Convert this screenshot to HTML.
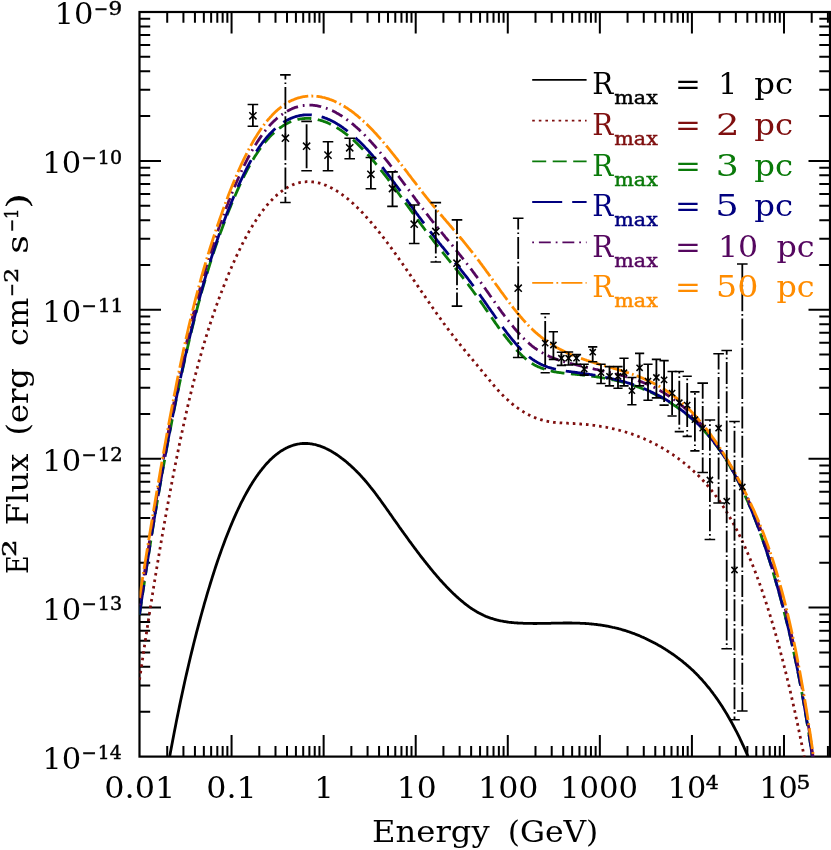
<!DOCTYPE html>
<html lang="en"><head><meta charset="utf-8"><title>E² Flux vs Energy</title>
<style>html,body{margin:0;padding:0;background:#fff;}body{width:831px;height:850px;overflow:hidden;position:relative}</style></head>
<body>
<svg width="831" height="850" viewBox="0 0 831 850" style="display:block;position:absolute;left:0;top:0">
<rect x="0" y="0" width="831" height="850" fill="#ffffff"/>
<defs><clipPath id="clip"><rect x="139.5" y="12.0" width="690.5" height="744.6"/></clipPath></defs>
<path d="M167.22 756.6v-10.7M167.22 12.0v10.7M183.43 756.6v-10.7M183.43 12.0v10.7M194.93 756.6v-10.7M194.93 12.0v10.7M203.85 756.6v-10.7M203.85 12.0v10.7M211.14 756.6v-10.7M211.14 12.0v10.7M217.31 756.6v-10.7M217.31 12.0v10.7M222.65 756.6v-10.7M222.65 12.0v10.7M227.36 756.6v-10.7M227.36 12.0v10.7M231.57 756.6v-21.5M231.57 12.0v21.5M259.29 756.6v-10.7M259.29 12.0v10.7M275.50 756.6v-10.7M275.50 12.0v10.7M287.00 756.6v-10.7M287.00 12.0v10.7M295.92 756.6v-10.7M295.92 12.0v10.7M303.21 756.6v-10.7M303.21 12.0v10.7M309.38 756.6v-10.7M309.38 12.0v10.7M314.72 756.6v-10.7M314.72 12.0v10.7M319.43 756.6v-10.7M319.43 12.0v10.7M323.64 756.6v-21.5M323.64 12.0v21.5M351.36 756.6v-10.7M351.36 12.0v10.7M367.57 756.6v-10.7M367.57 12.0v10.7M379.07 756.6v-10.7M379.07 12.0v10.7M387.99 756.6v-10.7M387.99 12.0v10.7M395.28 756.6v-10.7M395.28 12.0v10.7M401.45 756.6v-10.7M401.45 12.0v10.7M406.79 756.6v-10.7M406.79 12.0v10.7M411.50 756.6v-10.7M411.50 12.0v10.7M415.71 756.6v-21.5M415.71 12.0v21.5M443.43 756.6v-10.7M443.43 12.0v10.7M459.64 756.6v-10.7M459.64 12.0v10.7M471.14 756.6v-10.7M471.14 12.0v10.7M480.06 756.6v-10.7M480.06 12.0v10.7M487.35 756.6v-10.7M487.35 12.0v10.7M493.52 756.6v-10.7M493.52 12.0v10.7M498.86 756.6v-10.7M498.86 12.0v10.7M503.57 756.6v-10.7M503.57 12.0v10.7M507.78 756.6v-21.5M507.78 12.0v21.5M535.50 756.6v-10.7M535.50 12.0v10.7M551.71 756.6v-10.7M551.71 12.0v10.7M563.21 756.6v-10.7M563.21 12.0v10.7M572.13 756.6v-10.7M572.13 12.0v10.7M579.42 756.6v-10.7M579.42 12.0v10.7M585.59 756.6v-10.7M585.59 12.0v10.7M590.93 756.6v-10.7M590.93 12.0v10.7M595.64 756.6v-10.7M595.64 12.0v10.7M599.85 756.6v-21.5M599.85 12.0v21.5M627.57 756.6v-10.7M627.57 12.0v10.7M643.78 756.6v-10.7M643.78 12.0v10.7M655.28 756.6v-10.7M655.28 12.0v10.7M664.20 756.6v-10.7M664.20 12.0v10.7M671.49 756.6v-10.7M671.49 12.0v10.7M677.66 756.6v-10.7M677.66 12.0v10.7M683.00 756.6v-10.7M683.00 12.0v10.7M687.71 756.6v-10.7M687.71 12.0v10.7M691.92 756.6v-21.5M691.92 12.0v21.5M719.64 756.6v-10.7M719.64 12.0v10.7M735.85 756.6v-10.7M735.85 12.0v10.7M747.35 756.6v-10.7M747.35 12.0v10.7M756.27 756.6v-10.7M756.27 12.0v10.7M763.56 756.6v-10.7M763.56 12.0v10.7M769.73 756.6v-10.7M769.73 12.0v10.7M775.07 756.6v-10.7M775.07 12.0v10.7M779.78 756.6v-10.7M779.78 12.0v10.7M783.99 756.6v-21.5M783.99 12.0v21.5M811.71 756.6v-10.7M811.71 12.0v10.7M827.92 756.6v-10.7M827.92 12.0v10.7M139.5 711.68h10.7M830.0 711.68h-10.7M139.5 685.46h10.7M830.0 685.46h-10.7M139.5 666.85h10.7M830.0 666.85h-10.7M139.5 652.42h10.7M830.0 652.42h-10.7M139.5 640.63h10.7M830.0 640.63h-10.7M139.5 630.66h10.7M830.0 630.66h-10.7M139.5 622.03h10.7M830.0 622.03h-10.7M139.5 614.41h10.7M830.0 614.41h-10.7M139.5 607.60h21.5M830.0 607.60h-21.5M139.5 562.78h10.7M830.0 562.78h-10.7M139.5 536.56h10.7M830.0 536.56h-10.7M139.5 517.95h10.7M830.0 517.95h-10.7M139.5 503.52h10.7M830.0 503.52h-10.7M139.5 491.73h10.7M830.0 491.73h-10.7M139.5 481.76h10.7M830.0 481.76h-10.7M139.5 473.13h10.7M830.0 473.13h-10.7M139.5 465.51h10.7M830.0 465.51h-10.7M139.5 458.70h21.5M830.0 458.70h-21.5M139.5 413.88h10.7M830.0 413.88h-10.7M139.5 387.66h10.7M830.0 387.66h-10.7M139.5 369.05h10.7M830.0 369.05h-10.7M139.5 354.62h10.7M830.0 354.62h-10.7M139.5 342.83h10.7M830.0 342.83h-10.7M139.5 332.86h10.7M830.0 332.86h-10.7M139.5 324.23h10.7M830.0 324.23h-10.7M139.5 316.61h10.7M830.0 316.61h-10.7M139.5 309.80h21.5M830.0 309.80h-21.5M139.5 264.98h10.7M830.0 264.98h-10.7M139.5 238.76h10.7M830.0 238.76h-10.7M139.5 220.15h10.7M830.0 220.15h-10.7M139.5 205.72h10.7M830.0 205.72h-10.7M139.5 193.93h10.7M830.0 193.93h-10.7M139.5 183.96h10.7M830.0 183.96h-10.7M139.5 175.33h10.7M830.0 175.33h-10.7M139.5 167.71h10.7M830.0 167.71h-10.7M139.5 160.90h21.5M830.0 160.90h-21.5M139.5 116.08h10.7M830.0 116.08h-10.7M139.5 89.86h10.7M830.0 89.86h-10.7M139.5 71.25h10.7M830.0 71.25h-10.7M139.5 56.82h10.7M830.0 56.82h-10.7M139.5 45.03h10.7M830.0 45.03h-10.7M139.5 35.06h10.7M830.0 35.06h-10.7M139.5 26.43h10.7M830.0 26.43h-10.7M139.5 18.81h10.7M830.0 18.81h-10.7" stroke="#000" stroke-width="2.0" fill="none"/>
<rect x="139.5" y="12.0" width="690.5" height="744.6" fill="none" stroke="#000" stroke-width="2.2"/>
<g clip-path="url(#clip)" fill="none" stroke-linejoin="round">
<path d="M167.5 768.7 L168.5 763.1 L169.5 757.6 L170.5 752.1 L171.5 746.7 L172.5 741.4 L173.5 736.2 L174.5 731.0 L175.5 725.9 L176.5 720.8 L177.5 715.9 L178.5 711.0 L179.5 706.1 L180.5 701.3 L181.5 696.6 L182.5 692.0 L183.5 687.4 L184.5 682.8 L185.5 678.3 L186.5 673.9 L187.5 669.6 L188.5 665.3 L189.5 661.0 L190.5 656.8 L191.5 652.7 L192.5 648.6 L193.5 644.5 L194.5 640.5 L195.5 636.6 L196.5 632.7 L197.5 628.9 L198.5 625.1 L199.5 621.3 L200.5 617.6 L201.5 614.0 L202.5 610.3 L203.5 606.8 L204.5 603.2 L205.5 599.8 L206.5 596.3 L207.5 592.9 L208.5 589.6 L209.5 586.3 L210.5 583.0 L211.5 579.8 L212.5 576.6 L213.5 573.5 L214.5 570.4 L215.5 567.3 L216.5 564.3 L217.5 561.3 L218.5 558.4 L219.5 555.5 L220.5 552.7 L221.5 549.9 L222.5 547.1 L223.5 544.4 L224.5 541.7 L225.5 539.1 L226.5 536.5 L227.5 533.9 L228.5 531.4 L229.5 528.9 L230.5 526.5 L231.5 524.1 L232.5 521.7 L233.5 519.4 L234.5 517.1 L235.5 514.9 L236.5 512.7 L237.5 510.5 L238.5 508.4 L239.5 506.3 L240.5 504.2 L241.5 502.2 L242.5 500.3 L243.5 498.3 L244.5 496.4 L245.5 494.6 L246.5 492.8 L247.5 491.0 L248.5 489.2 L249.5 487.5 L250.5 485.8 L251.5 484.2 L252.5 482.6 L253.5 481.0 L254.5 479.5 L255.5 478.0 L256.5 476.5 L257.5 475.1 L258.5 473.7 L259.5 472.4 L260.5 471.0 L261.5 469.8 L262.5 468.5 L263.5 467.3 L264.5 466.1 L265.5 464.9 L266.5 463.8 L267.5 462.7 L268.5 461.7 L269.5 460.6 L270.5 459.6 L271.5 458.7 L272.5 457.8 L273.5 456.9 L274.5 456.0 L275.5 455.2 L276.5 454.3 L277.5 453.6 L278.5 452.8 L279.5 452.1 L280.5 451.4 L281.5 450.8 L282.5 450.2 L283.5 449.6 L284.5 449.0 L285.5 448.5 L286.5 447.9 L287.5 447.5 L288.5 447.0 L289.5 446.6 L290.5 446.2 L291.5 445.8 L292.5 445.5 L293.5 445.2 L294.5 444.9 L295.5 444.6 L296.5 444.4 L297.5 444.2 L298.5 444.0 L299.5 443.8 L300.5 443.7 L301.5 443.6 L302.5 443.5 L303.5 443.5 L304.5 443.5 L305.5 443.5 L306.5 443.5 L307.5 443.5 L308.5 443.6 L309.5 443.7 L310.5 443.8 L311.5 443.9 L312.5 444.1 L313.5 444.3 L314.5 444.5 L315.5 444.7 L316.5 445.0 L317.5 445.3 L318.5 445.6 L319.5 445.9 L320.5 446.2 L321.5 446.6 L322.5 447.0 L323.5 447.4 L324.5 447.8 L325.5 448.3 L326.5 448.7 L327.5 449.2 L328.5 449.7 L329.5 450.3 L330.5 450.8 L331.5 451.4 L332.5 452.0 L333.5 452.6 L334.5 453.2 L335.5 453.8 L336.5 454.5 L337.5 455.2 L338.5 455.9 L339.5 456.6 L340.5 457.3 L341.5 458.1 L342.5 458.8 L343.5 459.6 L344.5 460.4 L345.5 461.2 L346.5 462.0 L347.5 462.9 L348.5 463.8 L349.5 464.6 L350.5 465.5 L351.5 466.4 L352.5 467.4 L353.5 468.3 L354.5 469.3 L355.5 470.2 L356.5 471.2 L357.5 472.3 L358.5 473.3 L359.5 474.3 L360.5 475.4 L361.5 476.5 L362.5 477.6 L363.5 478.7 L364.5 479.8 L365.5 481.0 L366.5 482.2 L367.5 483.4 L368.5 484.6 L369.5 485.8 L370.5 487.1 L371.5 488.3 L372.5 489.6 L373.5 490.9 L374.5 492.2 L375.5 493.5 L376.5 494.9 L377.5 496.2 L378.5 497.6 L379.5 498.9 L380.5 500.3 L381.5 501.7 L382.5 503.1 L383.5 504.5 L384.5 505.9 L385.5 507.3 L386.5 508.7 L387.5 510.1 L388.5 511.5 L389.5 513.0 L390.5 514.4 L391.5 515.8 L392.5 517.2 L393.5 518.7 L394.5 520.1 L395.5 521.5 L396.5 522.9 L397.5 524.3 L398.5 525.7 L399.5 527.2 L400.5 528.6 L401.5 530.0 L402.5 531.4 L403.5 532.8 L404.5 534.2 L405.5 535.5 L406.5 536.9 L407.5 538.3 L408.5 539.7 L409.5 541.1 L410.5 542.4 L411.5 543.8 L412.5 545.2 L413.5 546.5 L414.5 547.9 L415.5 549.2 L416.5 550.5 L417.5 551.9 L418.5 553.2 L419.5 554.5 L420.5 555.8 L421.5 557.1 L422.5 558.4 L423.5 559.7 L424.5 561.0 L425.5 562.2 L426.5 563.5 L427.5 564.7 L428.5 566.0 L429.5 567.2 L430.5 568.5 L431.5 569.7 L432.5 570.9 L433.5 572.1 L434.5 573.3 L435.5 574.4 L436.5 575.6 L437.5 576.8 L438.5 577.9 L439.5 579.1 L440.5 580.2 L441.5 581.3 L442.5 582.4 L443.5 583.5 L444.5 584.6 L445.5 585.6 L446.5 586.7 L447.5 587.7 L448.5 588.7 L449.5 589.8 L450.5 590.8 L451.5 591.8 L452.5 592.7 L453.5 593.7 L454.5 594.6 L455.5 595.6 L456.5 596.5 L457.5 597.4 L458.5 598.3 L459.5 599.2 L460.5 600.0 L461.5 600.9 L462.5 601.7 L463.5 602.5 L464.5 603.3 L465.5 604.1 L466.5 604.9 L467.5 605.6 L468.5 606.4 L469.5 607.1 L470.5 607.8 L471.5 608.5 L472.5 609.1 L473.5 609.8 L474.5 610.4 L475.5 611.0 L476.5 611.6 L477.5 612.2 L478.5 612.8 L479.5 613.3 L480.5 613.8 L481.5 614.3 L482.5 614.8 L483.5 615.3 L484.5 615.7 L485.5 616.2 L486.5 616.6 L487.5 617.0 L488.5 617.4 L489.5 617.7 L490.5 618.1 L491.5 618.4 L492.5 618.7 L493.5 619.0 L494.5 619.3 L495.5 619.6 L496.5 619.9 L497.5 620.1 L498.5 620.4 L499.5 620.6 L500.5 620.8 L501.5 621.0 L502.5 621.2 L503.5 621.4 L504.5 621.6 L505.5 621.7 L506.5 621.9 L507.5 622.0 L508.5 622.2 L509.5 622.3 L510.5 622.4 L511.5 622.5 L512.5 622.6 L513.5 622.7 L514.5 622.8 L515.5 622.9 L516.5 622.9 L517.5 623.0 L518.5 623.1 L519.5 623.1 L520.5 623.2 L521.5 623.2 L522.5 623.2 L523.5 623.3 L524.5 623.3 L525.5 623.3 L526.5 623.4 L527.5 623.4 L528.5 623.4 L529.5 623.4 L530.5 623.4 L531.5 623.4 L532.5 623.4 L533.5 623.5 L534.5 623.5 L535.5 623.5 L536.5 623.5 L537.5 623.4 L538.5 623.4 L539.5 623.4 L540.5 623.4 L541.5 623.4 L542.5 623.4 L543.5 623.4 L544.5 623.4 L545.5 623.3 L546.5 623.3 L547.5 623.3 L548.5 623.3 L549.5 623.3 L550.5 623.3 L551.5 623.2 L552.5 623.2 L553.5 623.2 L554.5 623.2 L555.5 623.2 L556.5 623.1 L557.5 623.1 L558.5 623.1 L559.5 623.1 L560.5 623.1 L561.5 623.1 L562.5 623.1 L563.5 623.0 L564.5 623.0 L565.5 623.0 L566.5 623.0 L567.5 623.0 L568.5 623.0 L569.5 623.0 L570.5 623.0 L571.5 623.0 L572.5 623.1 L573.5 623.1 L574.5 623.1 L575.5 623.1 L576.5 623.1 L577.5 623.2 L578.5 623.2 L579.5 623.2 L580.5 623.3 L581.5 623.3 L582.5 623.3 L583.5 623.4 L584.5 623.4 L585.5 623.5 L586.5 623.6 L587.5 623.6 L588.5 623.7 L589.5 623.8 L590.5 623.9 L591.5 624.0 L592.5 624.1 L593.5 624.2 L594.5 624.3 L595.5 624.4 L596.5 624.5 L597.5 624.6 L598.5 624.8 L599.5 624.9 L600.5 625.0 L601.5 625.2 L602.5 625.4 L603.5 625.5 L604.5 625.7 L605.5 625.9 L606.5 626.0 L607.5 626.2 L608.5 626.4 L609.5 626.6 L610.5 626.8 L611.5 627.0 L612.5 627.3 L613.5 627.5 L614.5 627.7 L615.5 628.0 L616.5 628.2 L617.5 628.4 L618.5 628.7 L619.5 629.0 L620.5 629.2 L621.5 629.5 L622.5 629.8 L623.5 630.1 L624.5 630.4 L625.5 630.7 L626.5 631.0 L627.5 631.4 L628.5 631.7 L629.5 632.0 L630.5 632.4 L631.5 632.7 L632.5 633.1 L633.5 633.4 L634.5 633.8 L635.5 634.2 L636.5 634.6 L637.5 635.0 L638.5 635.4 L639.5 635.8 L640.5 636.2 L641.5 636.7 L642.5 637.1 L643.5 637.5 L644.5 638.0 L645.5 638.4 L646.5 638.9 L647.5 639.4 L648.5 639.9 L649.5 640.4 L650.5 640.9 L651.5 641.4 L652.5 641.9 L653.5 642.4 L654.5 642.9 L655.5 643.5 L656.5 644.0 L657.5 644.6 L658.5 645.2 L659.5 645.7 L660.5 646.3 L661.5 646.9 L662.5 647.5 L663.5 648.1 L664.5 648.7 L665.5 649.4 L666.5 650.0 L667.5 650.6 L668.5 651.3 L669.5 652.0 L670.5 652.6 L671.5 653.3 L672.5 654.0 L673.5 654.7 L674.5 655.4 L675.5 656.1 L676.5 656.8 L677.5 657.6 L678.5 658.3 L679.5 659.1 L680.5 659.9 L681.5 660.6 L682.5 661.4 L683.5 662.3 L684.5 663.1 L685.5 663.9 L686.5 664.8 L687.5 665.6 L688.5 666.5 L689.5 667.4 L690.5 668.3 L691.5 669.2 L692.5 670.1 L693.5 671.1 L694.5 672.1 L695.5 673.0 L696.5 674.0 L697.5 675.1 L698.5 676.1 L699.5 677.2 L700.5 678.2 L701.5 679.3 L702.5 680.4 L703.5 681.6 L704.5 682.7 L705.5 683.9 L706.5 685.1 L707.5 686.3 L708.5 687.5 L709.5 688.7 L710.5 690.0 L711.5 691.3 L712.5 692.6 L713.5 694.0 L714.5 695.3 L715.5 696.7 L716.5 698.1 L717.5 699.5 L718.5 701.0 L719.5 702.5 L720.5 704.0 L721.5 705.5 L722.5 707.1 L723.5 708.7 L724.5 710.3 L725.5 711.9 L726.5 713.6 L727.5 715.2 L728.5 717.0 L729.5 718.7 L730.5 720.5 L731.5 722.3 L732.5 724.1 L733.5 726.0 L734.5 727.9 L735.5 729.8 L736.5 731.7 L737.5 733.7 L738.5 735.7 L739.5 737.7 L740.5 739.8 L741.5 741.9 L742.5 744.1 L743.5 746.2 L744.5 748.4 L745.5 750.7 L746.5 752.9 L747.5 755.2 L748.5 757.6 L749.5 759.9 L750.5 762.4 L751.5 764.8" stroke="#000000" stroke-width="2.8"/>
<path d="M139.5 679.9 L140.5 673.1 L141.5 666.2 L142.5 659.4 L143.5 652.7 L144.5 646.0 L145.5 639.4 L146.5 632.8 L147.5 626.2 L148.5 619.7 L149.5 613.3 L150.5 606.9 L151.5 600.5 L152.5 594.2 L153.5 588.0 L154.5 581.8 L155.5 575.6 L156.5 569.5 L157.5 563.5 L158.5 557.5 L159.5 551.5 L160.5 545.7 L161.5 539.8 L162.5 534.0 L163.5 528.3 L164.5 522.6 L165.5 517.0 L166.5 511.4 L167.5 505.9 L168.5 500.4 L169.5 495.0 L170.5 489.7 L171.5 484.4 L172.5 479.1 L173.5 474.0 L174.5 468.8 L175.5 463.7 L176.5 458.7 L177.5 453.8 L178.5 448.9 L179.5 444.0 L180.5 439.2 L181.5 434.5 L182.5 429.8 L183.5 425.2 L184.5 420.7 L185.5 416.2 L186.5 411.7 L187.5 407.3 L188.5 403.0 L189.5 398.8 L190.5 394.6 L191.5 390.4 L192.5 386.4 L193.5 382.4 L194.5 378.4 L195.5 374.5 L196.5 370.7 L197.5 366.9 L198.5 363.2 L199.5 359.5 L200.5 355.9 L201.5 352.4 L202.5 348.9 L203.5 345.5 L204.5 342.1 L205.5 338.8 L206.5 335.5 L207.5 332.3 L208.5 329.1 L209.5 326.0 L210.5 322.9 L211.5 319.9 L212.5 316.9 L213.5 314.0 L214.5 311.1 L215.5 308.2 L216.5 305.4 L217.5 302.6 L218.5 299.9 L219.5 297.2 L220.5 294.5 L221.5 291.9 L222.5 289.3 L223.5 286.7 L224.5 284.2 L225.5 281.7 L226.5 279.2 L227.5 276.8 L228.5 274.3 L229.5 272.0 L230.5 269.6 L231.5 267.3 L232.5 265.0 L233.5 262.7 L234.5 260.5 L235.5 258.2 L236.5 256.1 L237.5 253.9 L238.5 251.8 L239.5 249.8 L240.5 247.7 L241.5 245.7 L242.5 243.7 L243.5 241.8 L244.5 239.9 L245.5 238.0 L246.5 236.1 L247.5 234.3 L248.5 232.5 L249.5 230.8 L250.5 229.1 L251.5 227.4 L252.5 225.7 L253.5 224.1 L254.5 222.5 L255.5 221.0 L256.5 219.4 L257.5 217.9 L258.5 216.5 L259.5 215.0 L260.5 213.6 L261.5 212.3 L262.5 210.9 L263.5 209.6 L264.5 208.3 L265.5 207.1 L266.5 205.9 L267.5 204.7 L268.5 203.5 L269.5 202.4 L270.5 201.3 L271.5 200.3 L272.5 199.2 L273.5 198.2 L274.5 197.3 L275.5 196.3 L276.5 195.4 L277.5 194.5 L278.5 193.7 L279.5 192.9 L280.5 192.1 L281.5 191.3 L282.5 190.6 L283.5 189.9 L284.5 189.2 L285.5 188.6 L286.5 188.0 L287.5 187.4 L288.5 186.8 L289.5 186.3 L290.5 185.8 L291.5 185.4 L292.5 184.9 L293.5 184.5 L294.5 184.1 L295.5 183.8 L296.5 183.5 L297.5 183.2 L298.5 182.9 L299.5 182.7 L300.5 182.4 L301.5 182.3 L302.5 182.1 L303.5 182.0 L304.5 181.8 L305.5 181.8 L306.5 181.7 L307.5 181.7 L308.5 181.7 L309.5 181.7 L310.5 181.7 L311.5 181.8 L312.5 181.9 L313.5 182.0 L314.5 182.1 L315.5 182.3 L316.5 182.5 L317.5 182.7 L318.5 182.9 L319.5 183.1 L320.5 183.4 L321.5 183.7 L322.5 184.0 L323.5 184.4 L324.5 184.8 L325.5 185.1 L326.5 185.5 L327.5 186.0 L328.5 186.4 L329.5 186.9 L330.5 187.4 L331.5 187.9 L332.5 188.4 L333.5 189.0 L334.5 189.6 L335.5 190.2 L336.5 190.8 L337.5 191.4 L338.5 192.0 L339.5 192.7 L340.5 193.4 L341.5 194.1 L342.5 194.8 L343.5 195.6 L344.5 196.3 L345.5 197.1 L346.5 197.9 L347.5 198.7 L348.5 199.5 L349.5 200.4 L350.5 201.3 L351.5 202.1 L352.5 203.0 L353.5 203.9 L354.5 204.9 L355.5 205.8 L356.5 206.8 L357.5 207.7 L358.5 208.7 L359.5 209.7 L360.5 210.8 L361.5 211.8 L362.5 212.8 L363.5 213.9 L364.5 215.0 L365.5 216.1 L366.5 217.2 L367.5 218.3 L368.5 219.4 L369.5 220.5 L370.5 221.7 L371.5 222.8 L372.5 224.0 L373.5 225.2 L374.5 226.4 L375.5 227.6 L376.5 228.8 L377.5 230.1 L378.5 231.3 L379.5 232.6 L380.5 233.9 L381.5 235.1 L382.5 236.4 L383.5 237.7 L384.5 239.0 L385.5 240.3 L386.5 241.7 L387.5 243.0 L388.5 244.3 L389.5 245.7 L390.5 247.0 L391.5 248.4 L392.5 249.8 L393.5 251.2 L394.5 252.5 L395.5 253.9 L396.5 255.3 L397.5 256.7 L398.5 258.1 L399.5 259.6 L400.5 261.0 L401.5 262.4 L402.5 263.8 L403.5 265.3 L404.5 266.7 L405.5 268.2 L406.5 269.6 L407.5 271.0 L408.5 272.5 L409.5 273.9 L410.5 275.4 L411.5 276.9 L412.5 278.3 L413.5 279.8 L414.5 281.2 L415.5 282.7 L416.5 284.2 L417.5 285.6 L418.5 287.1 L419.5 288.6 L420.5 290.0 L421.5 291.5 L422.5 293.0 L423.5 294.4 L424.5 295.9 L425.5 297.3 L426.5 298.8 L427.5 300.2 L428.5 301.7 L429.5 303.1 L430.5 304.6 L431.5 306.0 L432.5 307.5 L433.5 308.9 L434.5 310.3 L435.5 311.8 L436.5 313.2 L437.5 314.6 L438.5 316.0 L439.5 317.4 L440.5 318.8 L441.5 320.2 L442.5 321.6 L443.5 323.0 L444.5 324.3 L445.5 325.7 L446.5 327.1 L447.5 328.4 L448.5 329.7 L449.5 331.1 L450.5 332.4 L451.5 333.7 L452.5 335.0 L453.5 336.3 L454.5 337.6 L455.5 338.9 L456.5 340.1 L457.5 341.4 L458.5 342.7 L459.5 343.9 L460.5 345.1 L461.5 346.4 L462.5 347.6 L463.5 348.8 L464.5 350.0 L465.5 351.2 L466.5 352.4 L467.5 353.6 L468.5 354.8 L469.5 356.0 L470.5 357.2 L471.5 358.4 L472.5 359.6 L473.5 360.8 L474.5 362.0 L475.5 363.2 L476.5 364.4 L477.5 365.6 L478.5 366.8 L479.5 368.0 L480.5 369.2 L481.5 370.5 L482.5 371.7 L483.5 372.9 L484.5 374.1 L485.5 375.4 L486.5 376.6 L487.5 377.8 L488.5 379.0 L489.5 380.2 L490.5 381.5 L491.5 382.6 L492.5 383.8 L493.5 385.0 L494.5 386.2 L495.5 387.3 L496.5 388.5 L497.5 389.6 L498.5 390.7 L499.5 391.8 L500.5 392.8 L501.5 393.9 L502.5 394.9 L503.5 395.9 L504.5 396.9 L505.5 397.9 L506.5 398.8 L507.5 399.7 L508.5 400.6 L509.5 401.5 L510.5 402.4 L511.5 403.2 L512.5 404.1 L513.5 404.9 L514.5 405.7 L515.5 406.4 L516.5 407.2 L517.5 407.9 L518.5 408.6 L519.5 409.3 L520.5 410.0 L521.5 410.7 L522.5 411.3 L523.5 411.9 L524.5 412.5 L525.5 413.1 L526.5 413.7 L527.5 414.2 L528.5 414.7 L529.5 415.2 L530.5 415.7 L531.5 416.2 L532.5 416.6 L533.5 417.1 L534.5 417.5 L535.5 417.9 L536.5 418.3 L537.5 418.7 L538.5 419.0 L539.5 419.3 L540.5 419.6 L541.5 419.9 L542.5 420.2 L543.5 420.5 L544.5 420.7 L545.5 421.0 L546.5 421.2 L547.5 421.4 L548.5 421.5 L549.5 421.7 L550.5 421.9 L551.5 422.0 L552.5 422.1 L553.5 422.3 L554.5 422.4 L555.5 422.5 L556.5 422.6 L557.5 422.7 L558.5 422.7 L559.5 422.8 L560.5 422.9 L561.5 422.9 L562.5 423.0 L563.5 423.1 L564.5 423.1 L565.5 423.2 L566.5 423.2 L567.5 423.2 L568.5 423.3 L569.5 423.3 L570.5 423.4 L571.5 423.4 L572.5 423.5 L573.5 423.5 L574.5 423.6 L575.5 423.6 L576.5 423.7 L577.5 423.8 L578.5 423.8 L579.5 423.9 L580.5 424.0 L581.5 424.1 L582.5 424.1 L583.5 424.2 L584.5 424.3 L585.5 424.4 L586.5 424.5 L587.5 424.6 L588.5 424.7 L589.5 424.8 L590.5 424.9 L591.5 425.1 L592.5 425.2 L593.5 425.3 L594.5 425.4 L595.5 425.6 L596.5 425.7 L597.5 425.8 L598.5 426.0 L599.5 426.1 L600.5 426.3 L601.5 426.5 L602.5 426.6 L603.5 426.8 L604.5 427.0 L605.5 427.2 L606.5 427.3 L607.5 427.5 L608.5 427.7 L609.5 427.9 L610.5 428.1 L611.5 428.4 L612.5 428.6 L613.5 428.8 L614.5 429.0 L615.5 429.3 L616.5 429.5 L617.5 429.8 L618.5 430.0 L619.5 430.3 L620.5 430.5 L621.5 430.8 L622.5 431.1 L623.5 431.4 L624.5 431.7 L625.5 432.0 L626.5 432.3 L627.5 432.6 L628.5 432.9 L629.5 433.2 L630.5 433.6 L631.5 433.9 L632.5 434.2 L633.5 434.6 L634.5 434.9 L635.5 435.3 L636.5 435.7 L637.5 436.1 L638.5 436.5 L639.5 436.8 L640.5 437.2 L641.5 437.7 L642.5 438.1 L643.5 438.5 L644.5 438.9 L645.5 439.4 L646.5 439.8 L647.5 440.3 L648.5 440.7 L649.5 441.2 L650.5 441.7 L651.5 442.2 L652.5 442.7 L653.5 443.2 L654.5 443.7 L655.5 444.2 L656.5 444.7 L657.5 445.3 L658.5 445.8 L659.5 446.4 L660.5 447.0 L661.5 447.5 L662.5 448.1 L663.5 448.7 L664.5 449.3 L665.5 449.9 L666.5 450.5 L667.5 451.2 L668.5 451.8 L669.5 452.4 L670.5 453.1 L671.5 453.8 L672.5 454.4 L673.5 455.1 L674.5 455.8 L675.5 456.5 L676.5 457.2 L677.5 458.0 L678.5 458.7 L679.5 459.5 L680.5 460.2 L681.5 461.0 L682.5 461.7 L683.5 462.5 L684.5 463.3 L685.5 464.1 L686.5 465.0 L687.5 465.8 L688.5 466.6 L689.5 467.5 L690.5 468.3 L691.5 469.2 L692.5 470.1 L693.5 471.0 L694.5 472.0 L695.5 472.9 L696.5 473.8 L697.5 474.8 L698.5 475.8 L699.5 476.8 L700.5 477.8 L701.5 478.9 L702.5 479.9 L703.5 481.0 L704.5 482.1 L705.5 483.2 L706.5 484.3 L707.5 485.5 L708.5 486.7 L709.5 487.8 L710.5 489.1 L711.5 490.3 L712.5 491.6 L713.5 492.8 L714.5 494.1 L715.5 495.5 L716.5 496.8 L717.5 498.2 L718.5 499.6 L719.5 501.0 L720.5 502.5 L721.5 503.9 L722.5 505.4 L723.5 507.0 L724.5 508.5 L725.5 510.1 L726.5 511.7 L727.5 513.4 L728.5 515.0 L729.5 516.7 L730.5 518.5 L731.5 520.2 L732.5 522.0 L733.5 523.8 L734.5 525.7 L735.5 527.6 L736.5 529.5 L737.5 531.4 L738.5 533.4 L739.5 535.4 L740.5 537.5 L741.5 539.5 L742.5 541.7 L743.5 543.8 L744.5 546.0 L745.5 548.2 L746.5 550.5 L747.5 552.8 L748.5 555.1 L749.5 557.5 L750.5 559.9 L751.5 562.3 L752.5 564.8 L753.5 567.4 L754.5 569.9 L755.5 572.5 L756.5 575.2 L757.5 577.9 L758.5 580.6 L759.5 583.4 L760.5 586.2 L761.5 589.0 L762.5 591.9 L763.5 594.9 L764.5 597.9 L765.5 600.9 L766.5 604.0 L767.5 607.1 L768.5 610.3 L769.5 613.5 L770.5 616.7 L771.5 620.0 L772.5 623.4 L773.5 626.8 L774.5 630.2 L775.5 633.7 L776.5 637.3 L777.5 640.9 L778.5 644.5 L779.5 648.2 L780.5 652.0 L781.5 655.8 L782.5 659.6 L783.5 663.5 L784.5 667.5 L785.5 671.5 L786.5 675.5 L787.5 679.7 L788.5 683.8 L789.5 688.0 L790.5 692.3 L791.5 696.7 L792.5 701.0 L793.5 705.5 L794.5 710.0 L795.5 714.5 L796.5 719.2 L797.5 723.8 L798.5 728.6 L799.5 733.3 L800.5 738.2 L801.5 743.1 L802.5 748.1 L803.5 753.1 L804.5 758.2 L805.5 763.3" stroke="#7f0f0f" stroke-width="2.8" stroke-dasharray="2.6 4.0"/>
<path d="M139.5 615.1 L140.5 608.3 L141.5 601.4 L142.5 594.7 L143.5 588.0 L144.5 581.4 L145.5 574.8 L146.5 568.2 L147.5 561.8 L148.5 555.4 L149.5 549.0 L150.5 542.7 L151.5 536.5 L152.5 530.3 L153.5 524.2 L154.5 518.1 L155.5 512.1 L156.5 506.1 L157.5 500.2 L158.5 494.4 L159.5 488.6 L160.5 482.8 L161.5 477.1 L162.5 471.5 L163.5 465.9 L164.5 460.4 L165.5 454.9 L166.5 449.5 L167.5 444.1 L168.5 438.8 L169.5 433.6 L170.5 428.4 L171.5 423.2 L172.5 418.1 L173.5 413.0 L174.5 408.0 L175.5 403.1 L176.5 398.2 L177.5 393.4 L178.5 388.6 L179.5 383.8 L180.5 379.1 L181.5 374.5 L182.5 369.9 L183.5 365.4 L184.5 360.9 L185.5 356.4 L186.5 352.1 L187.5 347.7 L188.5 343.5 L189.5 339.2 L190.5 335.0 L191.5 330.9 L192.5 326.8 L193.5 322.8 L194.5 318.9 L195.5 314.9 L196.5 311.1 L197.5 307.2 L198.5 303.5 L199.5 299.8 L200.5 296.1 L201.5 292.5 L202.5 288.9 L203.5 285.4 L204.5 282.0 L205.5 278.5 L206.5 275.2 L207.5 271.9 L208.5 268.6 L209.5 265.4 L210.5 262.2 L211.5 259.0 L212.5 256.0 L213.5 252.9 L214.5 249.9 L215.5 246.9 L216.5 244.0 L217.5 241.1 L218.5 238.2 L219.5 235.4 L220.5 232.6 L221.5 229.9 L222.5 227.2 L223.5 224.5 L224.5 221.8 L225.5 219.2 L226.5 216.6 L227.5 214.1 L228.5 211.5 L229.5 209.0 L230.5 206.6 L231.5 204.1 L232.5 201.7 L233.5 199.3 L234.5 197.0 L235.5 194.7 L236.5 192.4 L237.5 190.1 L238.5 187.9 L239.5 185.7 L240.5 183.5 L241.5 181.4 L242.5 179.3 L243.5 177.3 L244.5 175.2 L245.5 173.3 L246.5 171.3 L247.5 169.4 L248.5 167.5 L249.5 165.7 L250.5 163.9 L251.5 162.2 L252.5 160.4 L253.5 158.8 L254.5 157.1 L255.5 155.5 L256.5 154.0 L257.5 152.4 L258.5 151.0 L259.5 149.5 L260.5 148.1 L261.5 146.8 L262.5 145.4 L263.5 144.1 L264.5 142.9 L265.5 141.7 L266.5 140.5 L267.5 139.3 L268.5 138.2 L269.5 137.1 L270.5 136.1 L271.5 135.1 L272.5 134.1 L273.5 133.2 L274.5 132.3 L275.5 131.4 L276.5 130.5 L277.5 129.7 L278.5 128.9 L279.5 128.2 L280.5 127.5 L281.5 126.8 L282.5 126.1 L283.5 125.5 L284.5 124.9 L285.5 124.3 L286.5 123.7 L287.5 123.2 L288.5 122.7 L289.5 122.3 L290.5 121.8 L291.5 121.4 L292.5 121.0 L293.5 120.7 L294.5 120.4 L295.5 120.1 L296.5 119.8 L297.5 119.5 L298.5 119.3 L299.5 119.1 L300.5 118.9 L301.5 118.8 L302.5 118.7 L303.5 118.6 L304.5 118.5 L305.5 118.4 L306.5 118.4 L307.5 118.4 L308.5 118.4 L309.5 118.4 L310.5 118.5 L311.5 118.6 L312.5 118.7 L313.5 118.8 L314.5 119.0 L315.5 119.1 L316.5 119.3 L317.5 119.5 L318.5 119.8 L319.5 120.0 L320.5 120.3 L321.5 120.6 L322.5 120.9 L323.5 121.3 L324.5 121.6 L325.5 122.0 L326.5 122.4 L327.5 122.8 L328.5 123.3 L329.5 123.7 L330.5 124.2 L331.5 124.7 L332.5 125.2 L333.5 125.8 L334.5 126.3 L335.5 126.9 L336.5 127.5 L337.5 128.1 L338.5 128.7 L339.5 129.4 L340.5 130.0 L341.5 130.7 L342.5 131.4 L343.5 132.1 L344.5 132.9 L345.5 133.6 L346.5 134.4 L347.5 135.2 L348.5 136.0 L349.5 136.8 L350.5 137.6 L351.5 138.5 L352.5 139.4 L353.5 140.2 L354.5 141.1 L355.5 142.1 L356.5 143.0 L357.5 143.9 L358.5 144.9 L359.5 145.9 L360.5 146.9 L361.5 147.9 L362.5 148.9 L363.5 149.9 L364.5 151.0 L365.5 152.0 L366.5 153.1 L367.5 154.2 L368.5 155.3 L369.5 156.4 L370.5 157.5 L371.5 158.7 L372.5 159.8 L373.5 161.0 L374.5 162.2 L375.5 163.4 L376.5 164.6 L377.5 165.8 L378.5 167.0 L379.5 168.3 L380.5 169.5 L381.5 170.8 L382.5 172.0 L383.5 173.3 L384.5 174.6 L385.5 175.9 L386.5 177.2 L387.5 178.5 L388.5 179.8 L389.5 181.1 L390.5 182.5 L391.5 183.8 L392.5 185.2 L393.5 186.5 L394.5 187.9 L395.5 189.2 L396.5 190.6 L397.5 192.0 L398.5 193.3 L399.5 194.7 L400.5 196.1 L401.5 197.5 L402.5 198.8 L403.5 200.2 L404.5 201.6 L405.5 203.0 L406.5 204.4 L407.5 205.7 L408.5 207.1 L409.5 208.5 L410.5 209.9 L411.5 211.3 L412.5 212.7 L413.5 214.0 L414.5 215.4 L415.5 216.8 L416.5 218.2 L417.5 219.5 L418.5 220.9 L419.5 222.3 L420.5 223.6 L421.5 225.0 L422.5 226.3 L423.5 227.7 L424.5 229.0 L425.5 230.4 L426.5 231.7 L427.5 233.0 L428.5 234.3 L429.5 235.6 L430.5 236.9 L431.5 238.2 L432.5 239.5 L433.5 240.8 L434.5 242.1 L435.5 243.3 L436.5 244.6 L437.5 245.9 L438.5 247.1 L439.5 248.4 L440.5 249.6 L441.5 250.9 L442.5 252.1 L443.5 253.4 L444.5 254.6 L445.5 255.9 L446.5 257.1 L447.5 258.3 L448.5 259.6 L449.5 260.8 L450.5 262.1 L451.5 263.3 L452.5 264.5 L453.5 265.8 L454.5 267.1 L455.5 268.3 L456.5 269.6 L457.5 270.8 L458.5 272.1 L459.5 273.4 L460.5 274.6 L461.5 275.9 L462.5 277.2 L463.5 278.5 L464.5 279.8 L465.5 281.1 L466.5 282.4 L467.5 283.7 L468.5 285.0 L469.5 286.3 L470.5 287.7 L471.5 289.0 L472.5 290.3 L473.5 291.7 L474.5 293.1 L475.5 294.4 L476.5 295.8 L477.5 297.2 L478.5 298.6 L479.5 300.0 L480.5 301.4 L481.5 302.9 L482.5 304.3 L483.5 305.7 L484.5 307.2 L485.5 308.6 L486.5 310.1 L487.5 311.5 L488.5 313.0 L489.5 314.4 L490.5 315.9 L491.5 317.3 L492.5 318.8 L493.5 320.2 L494.5 321.6 L495.5 323.1 L496.5 324.5 L497.5 325.9 L498.5 327.4 L499.5 328.8 L500.5 330.1 L501.5 331.5 L502.5 332.8 L503.5 334.1 L504.5 335.4 L505.5 336.7 L506.5 338.0 L507.5 339.2 L508.5 340.5 L509.5 341.7 L510.5 342.9 L511.5 344.1 L512.5 345.3 L513.5 346.5 L514.5 347.6 L515.5 348.8 L516.5 349.9 L517.5 350.9 L518.5 352.0 L519.5 353.0 L520.5 354.0 L521.5 355.0 L522.5 356.0 L523.5 356.9 L524.5 357.8 L525.5 358.7 L526.5 359.6 L527.5 360.4 L528.5 361.2 L529.5 361.9 L530.5 362.6 L531.5 363.2 L532.5 363.8 L533.5 364.4 L534.5 365.0 L535.5 365.5 L536.5 366.0 L537.5 366.4 L538.5 366.9 L539.5 367.3 L540.5 367.7 L541.5 368.1 L542.5 368.4 L543.5 368.8 L544.5 369.1 L545.5 369.4 L546.5 369.7 L547.5 370.0 L548.5 370.3 L549.5 370.6 L550.5 370.9 L551.5 371.1 L552.5 371.3 L553.5 371.6 L554.5 371.8 L555.5 371.9 L556.5 372.1 L557.5 372.3 L558.5 372.4 L559.5 372.6 L560.5 372.7 L561.5 372.8 L562.5 373.0 L563.5 373.1 L564.5 373.2 L565.5 373.3 L566.5 373.4 L567.5 373.5 L568.5 373.6 L569.5 373.7 L570.5 373.8 L571.5 373.9 L572.5 374.0 L573.5 374.1 L574.5 374.2 L575.5 374.3 L576.5 374.4 L577.5 374.5 L578.5 374.6 L579.5 374.7 L580.5 374.8 L581.5 374.9 L582.5 375.0 L583.5 375.2 L584.5 375.3 L585.5 375.4 L586.5 375.5 L587.5 375.6 L588.5 375.8 L589.5 375.9 L590.5 376.0 L591.5 376.2 L592.5 376.3 L593.5 376.4 L594.5 376.6 L595.5 376.7 L596.5 376.9 L597.5 377.0 L598.5 377.2 L599.5 377.3 L600.5 377.5 L601.5 377.7 L602.5 377.8 L603.5 378.0 L604.5 378.2 L605.5 378.4 L606.5 378.6 L607.5 378.8 L608.5 379.0 L609.5 379.2 L610.5 379.4 L611.5 379.6 L612.5 379.8 L613.5 380.0 L614.5 380.2 L615.5 380.5 L616.5 380.7 L617.5 380.9 L618.5 381.2 L619.5 381.4 L620.5 381.7 L621.5 381.9 L622.5 382.2 L623.5 382.5 L624.5 382.7 L625.5 383.0 L626.5 383.3 L627.5 383.6 L628.5 383.9 L629.5 384.2 L630.5 384.5 L631.5 384.8 L632.5 385.1 L633.5 385.5 L634.5 385.8 L635.5 386.1 L636.5 386.5 L637.5 386.8 L638.5 387.2 L639.5 387.5 L640.5 387.9 L641.5 388.3 L642.5 388.7 L643.5 389.1 L644.5 389.5 L645.5 389.9 L646.5 390.3 L647.5 390.8 L648.5 391.2 L649.5 391.7 L650.5 392.1 L651.5 392.6 L652.5 393.0 L653.5 393.5 L654.5 394.0 L655.5 394.5 L656.5 395.0 L657.5 395.5 L658.5 396.0 L659.5 396.6 L660.5 397.1 L661.5 397.6 L662.5 398.2 L663.5 398.7 L664.5 399.3 L665.5 399.9 L666.5 400.5 L667.5 401.1 L668.5 401.7 L669.5 402.3 L670.5 402.9 L671.5 403.6 L672.5 404.2 L673.5 404.9 L674.5 405.5 L675.5 406.2 L676.5 406.9 L677.5 407.6 L678.5 408.3 L679.5 409.0 L680.5 409.7 L681.5 410.5 L682.5 411.2 L683.5 412.0 L684.5 412.7 L685.5 413.5 L686.5 414.3 L687.5 415.1 L688.5 415.9 L689.5 416.8 L690.5 417.6 L691.5 418.5 L692.5 419.4 L693.5 420.2 L694.5 421.2 L695.5 422.1 L696.5 423.0 L697.5 424.0 L698.5 424.9 L699.5 425.9 L700.5 426.9 L701.5 427.9 L702.5 429.0 L703.5 430.0 L704.5 431.1 L705.5 432.2 L706.5 433.3 L707.5 434.5 L708.5 435.6 L709.5 436.8 L710.5 438.0 L711.5 439.3 L712.5 440.5 L713.5 441.8 L714.5 443.1 L715.5 444.4 L716.5 445.7 L717.5 447.1 L718.5 448.5 L719.5 449.9 L720.5 451.3 L721.5 452.8 L722.5 454.3 L723.5 455.8 L724.5 457.3 L725.5 458.9 L726.5 460.5 L727.5 462.1 L728.5 463.8 L729.5 465.4 L730.5 467.2 L731.5 468.9 L732.5 470.7 L733.5 472.5 L734.5 474.3 L735.5 476.2 L736.5 478.0 L737.5 480.0 L738.5 481.9 L739.5 483.9 L740.5 485.9 L741.5 488.0 L742.5 490.1 L743.5 492.2 L744.5 494.4 L745.5 496.6 L746.5 498.8 L747.5 501.0 L748.5 503.3 L749.5 505.7 L750.5 508.0 L751.5 510.5 L752.5 512.9 L753.5 515.4 L754.5 517.9 L755.5 520.5 L756.5 523.1 L757.5 525.7 L758.5 528.4 L759.5 531.1 L760.5 533.9 L761.5 536.7 L762.5 539.5 L763.5 542.4 L764.5 545.3 L765.5 548.3 L766.5 551.3 L767.5 554.4 L768.5 557.5 L769.5 560.6 L770.5 563.8 L771.5 567.0 L772.5 570.3 L773.5 573.6 L774.5 577.0 L775.5 580.4 L776.5 583.9 L777.5 587.4 L778.5 590.9 L779.5 594.5 L780.5 598.2 L781.5 601.9 L782.5 605.6 L783.5 609.4 L784.5 613.3 L785.5 617.2 L786.5 621.2 L787.5 625.2 L788.5 629.3 L789.5 633.5 L790.5 637.7 L791.5 642.1 L792.5 646.5 L793.5 651.0 L794.5 655.6 L795.5 660.3 L796.5 665.1 L797.5 670.0 L798.5 675.0 L799.5 680.1 L800.5 685.3 L801.5 690.6 L802.5 696.1 L803.5 701.6 L804.5 707.4 L805.5 713.2 L806.5 719.2 L807.5 725.3 L808.5 731.5 L809.5 738.0 L810.5 744.5 L811.5 751.2 L812.5 758.1 L813.5 765.1" stroke="#0a7a0a" stroke-width="2.8" stroke-dasharray="14 6.5"/>
<path d="M139.5 614.6 L140.5 607.7 L141.5 600.9 L142.5 594.1 L143.5 587.4 L144.5 580.8 L145.5 574.2 L146.5 567.6 L147.5 561.1 L148.5 554.7 L149.5 548.3 L150.5 542.0 L151.5 535.8 L152.5 529.6 L153.5 523.4 L154.5 517.3 L155.5 511.3 L156.5 505.3 L157.5 499.4 L158.5 493.5 L159.5 487.7 L160.5 482.0 L161.5 476.3 L162.5 470.6 L163.5 465.0 L164.5 459.5 L165.5 454.0 L166.5 448.6 L167.5 443.2 L168.5 437.8 L169.5 432.6 L170.5 427.3 L171.5 422.2 L172.5 417.0 L173.5 412.0 L174.5 407.0 L175.5 402.0 L176.5 397.1 L177.5 392.2 L178.5 387.4 L179.5 382.7 L180.5 377.9 L181.5 373.3 L182.5 368.7 L183.5 364.1 L184.5 359.6 L185.5 355.2 L186.5 350.8 L187.5 346.4 L188.5 342.1 L189.5 337.9 L190.5 333.7 L191.5 329.6 L192.5 325.5 L193.5 321.4 L194.5 317.4 L195.5 313.5 L196.5 309.6 L197.5 305.8 L198.5 302.0 L199.5 298.3 L200.5 294.6 L201.5 291.0 L202.5 287.4 L203.5 283.9 L204.5 280.4 L205.5 276.9 L206.5 273.6 L207.5 270.2 L208.5 266.9 L209.5 263.7 L210.5 260.5 L211.5 257.3 L212.5 254.2 L213.5 251.1 L214.5 248.1 L215.5 245.1 L216.5 242.2 L217.5 239.3 L218.5 236.4 L219.5 233.5 L220.5 230.7 L221.5 228.0 L222.5 225.2 L223.5 222.5 L224.5 219.9 L225.5 217.2 L226.5 214.6 L227.5 212.0 L228.5 209.5 L229.5 207.0 L230.5 204.5 L231.5 202.0 L232.5 199.6 L233.5 197.2 L234.5 194.8 L235.5 192.5 L236.5 190.1 L237.5 187.9 L238.5 185.6 L239.5 183.4 L240.5 181.2 L241.5 179.1 L242.5 177.0 L243.5 174.9 L244.5 172.9 L245.5 170.9 L246.5 168.9 L247.5 167.0 L248.5 165.1 L249.5 163.2 L250.5 161.4 L251.5 159.6 L252.5 157.9 L253.5 156.2 L254.5 154.5 L255.5 152.9 L256.5 151.3 L257.5 149.8 L258.5 148.3 L259.5 146.8 L260.5 145.4 L261.5 144.0 L262.5 142.7 L263.5 141.4 L264.5 140.1 L265.5 138.9 L266.5 137.7 L267.5 136.5 L268.5 135.4 L269.5 134.3 L270.5 133.2 L271.5 132.2 L272.5 131.2 L273.5 130.2 L274.5 129.3 L275.5 128.4 L276.5 127.5 L277.5 126.7 L278.5 125.9 L279.5 125.1 L280.5 124.4 L281.5 123.7 L282.5 123.0 L283.5 122.3 L284.5 121.7 L285.5 121.1 L286.5 120.5 L287.5 120.0 L288.5 119.5 L289.5 119.0 L290.5 118.5 L291.5 118.1 L292.5 117.7 L293.5 117.3 L294.5 117.0 L295.5 116.7 L296.5 116.4 L297.5 116.1 L298.5 115.9 L299.5 115.6 L300.5 115.4 L301.5 115.3 L302.5 115.1 L303.5 115.0 L304.5 114.9 L305.5 114.8 L306.5 114.8 L307.5 114.8 L308.5 114.8 L309.5 114.8 L310.5 114.8 L311.5 114.9 L312.5 115.0 L313.5 115.1 L314.5 115.2 L315.5 115.4 L316.5 115.6 L317.5 115.8 L318.5 116.0 L319.5 116.2 L320.5 116.5 L321.5 116.8 L322.5 117.1 L323.5 117.4 L324.5 117.8 L325.5 118.1 L326.5 118.5 L327.5 118.9 L328.5 119.4 L329.5 119.8 L330.5 120.3 L331.5 120.8 L332.5 121.3 L333.5 121.8 L334.5 122.3 L335.5 122.9 L336.5 123.5 L337.5 124.1 L338.5 124.7 L339.5 125.3 L340.5 126.0 L341.5 126.7 L342.5 127.3 L343.5 128.1 L344.5 128.8 L345.5 129.5 L346.5 130.3 L347.5 131.0 L348.5 131.8 L349.5 132.6 L350.5 133.5 L351.5 134.3 L352.5 135.2 L353.5 136.0 L354.5 136.9 L355.5 137.8 L356.5 138.7 L357.5 139.7 L358.5 140.6 L359.5 141.6 L360.5 142.6 L361.5 143.6 L362.5 144.6 L363.5 145.6 L364.5 146.6 L365.5 147.7 L366.5 148.7 L367.5 149.8 L368.5 150.9 L369.5 152.0 L370.5 153.1 L371.5 154.3 L372.5 155.4 L373.5 156.6 L374.5 157.7 L375.5 158.9 L376.5 160.1 L377.5 161.3 L378.5 162.5 L379.5 163.7 L380.5 165.0 L381.5 166.2 L382.5 167.5 L383.5 168.7 L384.5 170.0 L385.5 171.3 L386.5 172.6 L387.5 173.9 L388.5 175.2 L389.5 176.5 L390.5 177.8 L391.5 179.1 L392.5 180.5 L393.5 181.8 L394.5 183.1 L395.5 184.5 L396.5 185.8 L397.5 187.2 L398.5 188.5 L399.5 189.9 L400.5 191.3 L401.5 192.6 L402.5 194.0 L403.5 195.4 L404.5 196.8 L405.5 198.1 L406.5 199.5 L407.5 200.9 L408.5 202.3 L409.5 203.6 L410.5 205.0 L411.5 206.4 L412.5 207.8 L413.5 209.1 L414.5 210.5 L415.5 211.9 L416.5 213.3 L417.5 214.6 L418.5 216.0 L419.5 217.3 L420.5 218.7 L421.5 220.0 L422.5 221.4 L423.5 222.7 L424.5 224.0 L425.5 225.4 L426.5 226.7 L427.5 228.0 L428.5 229.3 L429.5 230.6 L430.5 231.9 L431.5 233.2 L432.5 234.5 L433.5 235.7 L434.5 237.0 L435.5 238.3 L436.5 239.5 L437.5 240.8 L438.5 242.0 L439.5 243.3 L440.5 244.5 L441.5 245.8 L442.5 247.0 L443.5 248.2 L444.5 249.5 L445.5 250.7 L446.5 251.9 L447.5 253.2 L448.5 254.4 L449.5 255.6 L450.5 256.9 L451.5 258.1 L452.5 259.3 L453.5 260.6 L454.5 261.8 L455.5 263.1 L456.5 264.3 L457.5 265.5 L458.5 266.8 L459.5 268.0 L460.5 269.3 L461.5 270.6 L462.5 271.8 L463.5 273.1 L464.5 274.4 L465.5 275.6 L466.5 276.9 L467.5 278.2 L468.5 279.5 L469.5 280.8 L470.5 282.1 L471.5 283.5 L472.5 284.8 L473.5 286.1 L474.5 287.5 L475.5 288.8 L476.5 290.2 L477.5 291.6 L478.5 293.0 L479.5 294.4 L480.5 295.8 L481.5 297.2 L482.5 298.6 L483.5 300.0 L484.5 301.4 L485.5 302.9 L486.5 304.3 L487.5 305.7 L488.5 307.2 L489.5 308.6 L490.5 310.0 L491.5 311.5 L492.5 312.9 L493.5 314.3 L494.5 315.7 L495.5 317.2 L496.5 318.6 L497.5 320.0 L498.5 321.4 L499.5 322.8 L500.5 324.2 L501.5 325.5 L502.5 326.9 L503.5 328.3 L504.5 329.6 L505.5 330.9 L506.5 332.3 L507.5 333.6 L508.5 334.8 L509.5 336.1 L510.5 337.4 L511.5 338.6 L512.5 339.8 L513.5 341.0 L514.5 342.2 L515.5 343.4 L516.5 344.5 L517.5 345.7 L518.5 346.8 L519.5 347.8 L520.5 348.9 L521.5 349.9 L522.5 350.9 L523.5 351.9 L524.5 352.8 L525.5 353.8 L526.5 354.7 L527.5 355.5 L528.5 356.4 L529.5 357.2 L530.5 357.9 L531.5 358.7 L532.5 359.4 L533.5 360.0 L534.5 360.7 L535.5 361.3 L536.5 361.9 L537.5 362.5 L538.5 363.0 L539.5 363.6 L540.5 364.1 L541.5 364.5 L542.5 365.0 L543.5 365.4 L544.5 365.8 L545.5 366.2 L546.5 366.6 L547.5 367.0 L548.5 367.3 L549.5 367.6 L550.5 367.9 L551.5 368.2 L552.5 368.5 L553.5 368.7 L554.5 369.0 L555.5 369.2 L556.5 369.4 L557.5 369.6 L558.5 369.8 L559.5 370.0 L560.5 370.2 L561.5 370.4 L562.5 370.5 L563.5 370.7 L564.5 370.9 L565.5 371.0 L566.5 371.2 L567.5 371.3 L568.5 371.4 L569.5 371.6 L570.5 371.7 L571.5 371.8 L572.5 372.0 L573.5 372.1 L574.5 372.2 L575.5 372.4 L576.5 372.5 L577.5 372.6 L578.5 372.8 L579.5 372.9 L580.5 373.1 L581.5 373.2 L582.5 373.3 L583.5 373.5 L584.5 373.6 L585.5 373.8 L586.5 373.9 L587.5 374.1 L588.5 374.2 L589.5 374.4 L590.5 374.6 L591.5 374.7 L592.5 374.9 L593.5 375.1 L594.5 375.2 L595.5 375.4 L596.5 375.6 L597.5 375.7 L598.5 375.9 L599.5 376.1 L600.5 376.3 L601.5 376.5 L602.5 376.7 L603.5 376.9 L604.5 377.1 L605.5 377.3 L606.5 377.5 L607.5 377.7 L608.5 377.9 L609.5 378.1 L610.5 378.3 L611.5 378.6 L612.5 378.8 L613.5 379.0 L614.5 379.3 L615.5 379.5 L616.5 379.8 L617.5 380.0 L618.5 380.3 L619.5 380.5 L620.5 380.8 L621.5 381.1 L622.5 381.3 L623.5 381.6 L624.5 381.9 L625.5 382.2 L626.5 382.5 L627.5 382.8 L628.5 383.1 L629.5 383.4 L630.5 383.8 L631.5 384.1 L632.5 384.4 L633.5 384.8 L634.5 385.1 L635.5 385.5 L636.5 385.8 L637.5 386.2 L638.5 386.6 L639.5 386.9 L640.5 387.3 L641.5 387.7 L642.5 388.1 L643.5 388.5 L644.5 388.9 L645.5 389.3 L646.5 389.8 L647.5 390.2 L648.5 390.7 L649.5 391.1 L650.5 391.6 L651.5 392.0 L652.5 392.5 L653.5 393.0 L654.5 393.5 L655.5 394.0 L656.5 394.5 L657.5 395.0 L658.5 395.5 L659.5 396.0 L660.5 396.6 L661.5 397.1 L662.5 397.7 L663.5 398.3 L664.5 398.8 L665.5 399.4 L666.5 400.0 L667.5 400.6 L668.5 401.2 L669.5 401.9 L670.5 402.5 L671.5 403.1 L672.5 403.8 L673.5 404.4 L674.5 405.1 L675.5 405.8 L676.5 406.5 L677.5 407.2 L678.5 407.9 L679.5 408.6 L680.5 409.3 L681.5 410.1 L682.5 410.8 L683.5 411.6 L684.5 412.4 L685.5 413.2 L686.5 414.0 L687.5 414.8 L688.5 415.6 L689.5 416.4 L690.5 417.3 L691.5 418.1 L692.5 419.0 L693.5 419.9 L694.5 420.8 L695.5 421.7 L696.5 422.7 L697.5 423.6 L698.5 424.6 L699.5 425.6 L700.5 426.6 L701.5 427.6 L702.5 428.7 L703.5 429.7 L704.5 430.8 L705.5 431.9 L706.5 433.0 L707.5 434.2 L708.5 435.3 L709.5 436.5 L710.5 437.7 L711.5 439.0 L712.5 440.2 L713.5 441.5 L714.5 442.8 L715.5 444.1 L716.5 445.4 L717.5 446.8 L718.5 448.2 L719.5 449.6 L720.5 451.0 L721.5 452.5 L722.5 454.0 L723.5 455.5 L724.5 457.0 L725.5 458.6 L726.5 460.2 L727.5 461.8 L728.5 463.5 L729.5 465.1 L730.5 466.9 L731.5 468.6 L732.5 470.4 L733.5 472.2 L734.5 474.0 L735.5 475.9 L736.5 477.7 L737.5 479.7 L738.5 481.6 L739.5 483.6 L740.5 485.6 L741.5 487.7 L742.5 489.8 L743.5 491.9 L744.5 494.1 L745.5 496.3 L746.5 498.5 L747.5 500.7 L748.5 503.0 L749.5 505.4 L750.5 507.7 L751.5 510.2 L752.5 512.6 L753.5 515.1 L754.5 517.6 L755.5 520.2 L756.5 522.8 L757.5 525.4 L758.5 528.1 L759.5 530.8 L760.5 533.6 L761.5 536.4 L762.5 539.2 L763.5 542.1 L764.5 545.0 L765.5 548.0 L766.5 551.0 L767.5 554.1 L768.5 557.2 L769.5 560.3 L770.5 563.5 L771.5 566.7 L772.5 570.0 L773.5 573.3 L774.5 576.7 L775.5 580.1 L776.5 583.6 L777.5 587.1 L778.5 590.6 L779.5 594.2 L780.5 597.9 L781.5 601.6 L782.5 605.3 L783.5 609.1 L784.5 613.0 L785.5 616.9 L786.5 620.9 L787.5 624.9 L788.5 629.0 L789.5 633.2 L790.5 637.4 L791.5 641.8 L792.5 646.2 L793.5 650.7 L794.5 655.3 L795.5 660.0 L796.5 664.8 L797.5 669.7 L798.5 674.7 L799.5 679.8 L800.5 685.0 L801.5 690.3 L802.5 695.8 L803.5 701.3 L804.5 707.1 L805.5 712.9 L806.5 718.9 L807.5 725.0 L808.5 731.2 L809.5 737.7 L810.5 744.2 L811.5 750.9 L812.5 757.8 L813.5 764.8" stroke="#00007f" stroke-width="2.8" stroke-dasharray="30 10"/>
<path d="M139.5 605.3 L140.5 598.8 L141.5 592.2 L142.5 585.7 L143.5 579.2 L144.5 572.8 L145.5 566.4 L146.5 560.1 L147.5 553.8 L148.5 547.5 L149.5 541.3 L150.5 535.1 L151.5 528.9 L152.5 522.8 L153.5 516.7 L154.5 510.7 L155.5 504.7 L156.5 498.8 L157.5 492.9 L158.5 487.1 L159.5 481.3 L160.5 475.5 L161.5 469.8 L162.5 464.1 L163.5 458.5 L164.5 452.9 L165.5 447.4 L166.5 441.9 L167.5 436.5 L168.5 431.1 L169.5 425.8 L170.5 420.5 L171.5 415.3 L172.5 410.1 L173.5 405.0 L174.5 399.9 L175.5 394.9 L176.5 389.9 L177.5 385.0 L178.5 380.1 L179.5 375.3 L180.5 370.5 L181.5 365.8 L182.5 361.1 L183.5 356.5 L184.5 352.0 L185.5 347.5 L186.5 343.1 L187.5 338.7 L188.5 334.4 L189.5 330.1 L190.5 325.9 L191.5 321.8 L192.5 317.7 L193.5 313.7 L194.5 309.7 L195.5 305.8 L196.5 301.9 L197.5 298.1 L198.5 294.4 L199.5 290.7 L200.5 287.0 L201.5 283.4 L202.5 279.9 L203.5 276.3 L204.5 272.9 L205.5 269.5 L206.5 266.1 L207.5 262.8 L208.5 259.5 L209.5 256.3 L210.5 253.1 L211.5 250.0 L212.5 246.9 L213.5 243.8 L214.5 240.8 L215.5 237.8 L216.5 234.8 L217.5 231.9 L218.5 229.0 L219.5 226.1 L220.5 223.3 L221.5 220.5 L222.5 217.8 L223.5 215.0 L224.5 212.3 L225.5 209.7 L226.5 207.0 L227.5 204.4 L228.5 201.8 L229.5 199.3 L230.5 196.8 L231.5 194.3 L232.5 191.8 L233.5 189.4 L234.5 187.0 L235.5 184.6 L236.5 182.3 L237.5 180.0 L238.5 177.7 L239.5 175.5 L240.5 173.3 L241.5 171.2 L242.5 169.0 L243.5 166.9 L244.5 164.9 L245.5 162.9 L246.5 160.9 L247.5 158.9 L248.5 157.0 L249.5 155.2 L250.5 153.3 L251.5 151.5 L252.5 149.8 L253.5 148.1 L254.5 146.4 L255.5 144.8 L256.5 143.2 L257.5 141.6 L258.5 140.1 L259.5 138.6 L260.5 137.1 L261.5 135.7 L262.5 134.4 L263.5 133.0 L264.5 131.7 L265.5 130.4 L266.5 129.2 L267.5 128.0 L268.5 126.9 L269.5 125.7 L270.5 124.6 L271.5 123.6 L272.5 122.6 L273.5 121.6 L274.5 120.6 L275.5 119.7 L276.5 118.8 L277.5 117.9 L278.5 117.1 L279.5 116.3 L280.5 115.5 L281.5 114.8 L282.5 114.1 L283.5 113.4 L284.5 112.7 L285.5 112.1 L286.5 111.5 L287.5 110.9 L288.5 110.4 L289.5 109.9 L290.5 109.4 L291.5 109.0 L292.5 108.5 L293.5 108.1 L294.5 107.7 L295.5 107.4 L296.5 107.1 L297.5 106.8 L298.5 106.5 L299.5 106.2 L300.5 106.0 L301.5 105.8 L302.5 105.6 L303.5 105.5 L304.5 105.4 L305.5 105.3 L306.5 105.2 L307.5 105.1 L308.5 105.1 L309.5 105.1 L310.5 105.1 L311.5 105.2 L312.5 105.2 L313.5 105.3 L314.5 105.4 L315.5 105.6 L316.5 105.7 L317.5 105.9 L318.5 106.1 L319.5 106.3 L320.5 106.5 L321.5 106.8 L322.5 107.0 L323.5 107.3 L324.5 107.6 L325.5 108.0 L326.5 108.3 L327.5 108.7 L328.5 109.1 L329.5 109.5 L330.5 109.9 L331.5 110.4 L332.5 110.8 L333.5 111.3 L334.5 111.8 L335.5 112.3 L336.5 112.9 L337.5 113.4 L338.5 114.0 L339.5 114.6 L340.5 115.2 L341.5 115.8 L342.5 116.5 L343.5 117.2 L344.5 117.8 L345.5 118.5 L346.5 119.3 L347.5 120.0 L348.5 120.7 L349.5 121.5 L350.5 122.3 L351.5 123.1 L352.5 123.9 L353.5 124.7 L354.5 125.6 L355.5 126.5 L356.5 127.3 L357.5 128.2 L358.5 129.1 L359.5 130.1 L360.5 131.0 L361.5 132.0 L362.5 132.9 L363.5 133.9 L364.5 134.9 L365.5 136.0 L366.5 137.0 L367.5 138.0 L368.5 139.1 L369.5 140.2 L370.5 141.2 L371.5 142.4 L372.5 143.5 L373.5 144.6 L374.5 145.7 L375.5 146.9 L376.5 148.1 L377.5 149.2 L378.5 150.4 L379.5 151.6 L380.5 152.8 L381.5 154.1 L382.5 155.3 L383.5 156.5 L384.5 157.8 L385.5 159.1 L386.5 160.3 L387.5 161.6 L388.5 162.9 L389.5 164.2 L390.5 165.5 L391.5 166.8 L392.5 168.1 L393.5 169.4 L394.5 170.8 L395.5 172.1 L396.5 173.4 L397.5 174.8 L398.5 176.1 L399.5 177.5 L400.5 178.8 L401.5 180.2 L402.5 181.5 L403.5 182.9 L404.5 184.2 L405.5 185.6 L406.5 186.9 L407.5 188.3 L408.5 189.6 L409.5 191.0 L410.5 192.3 L411.5 193.7 L412.5 195.0 L413.5 196.4 L414.5 197.7 L415.5 199.1 L416.5 200.4 L417.5 201.8 L418.5 203.1 L419.5 204.4 L420.5 205.8 L421.5 207.1 L422.5 208.4 L423.5 209.7 L424.5 211.0 L425.5 212.3 L426.5 213.6 L427.5 214.9 L428.5 216.2 L429.5 217.5 L430.5 218.8 L431.5 220.0 L432.5 221.3 L433.5 222.5 L434.5 223.8 L435.5 225.0 L436.5 226.3 L437.5 227.5 L438.5 228.7 L439.5 229.9 L440.5 231.2 L441.5 232.4 L442.5 233.6 L443.5 234.8 L444.5 236.0 L445.5 237.3 L446.5 238.5 L447.5 239.7 L448.5 240.9 L449.5 242.1 L450.5 243.3 L451.5 244.5 L452.5 245.7 L453.5 247.0 L454.5 248.2 L455.5 249.4 L456.5 250.7 L457.5 251.9 L458.5 253.1 L459.5 254.4 L460.5 255.6 L461.5 256.9 L462.5 258.1 L463.5 259.4 L464.5 260.7 L465.5 261.9 L466.5 263.2 L467.5 264.5 L468.5 265.8 L469.5 267.1 L470.5 268.4 L471.5 269.7 L472.5 271.0 L473.5 272.4 L474.5 273.7 L475.5 275.1 L476.5 276.4 L477.5 277.8 L478.5 279.2 L479.5 280.6 L480.5 282.0 L481.5 283.4 L482.5 284.8 L483.5 286.2 L484.5 287.6 L485.5 289.0 L486.5 290.5 L487.5 291.9 L488.5 293.3 L489.5 294.8 L490.5 296.2 L491.5 297.6 L492.5 299.1 L493.5 300.5 L494.5 301.9 L495.5 303.4 L496.5 304.8 L497.5 306.2 L498.5 307.6 L499.5 309.0 L500.5 310.4 L501.5 311.8 L502.5 313.1 L503.5 314.4 L504.5 315.8 L505.5 317.1 L506.5 318.4 L507.5 319.7 L508.5 320.9 L509.5 322.2 L510.5 323.5 L511.5 324.7 L512.5 325.9 L513.5 327.1 L514.5 328.3 L515.5 329.5 L516.5 330.7 L517.5 331.8 L518.5 332.9 L519.5 334.0 L520.5 335.1 L521.5 336.2 L522.5 337.2 L523.5 338.2 L524.5 339.2 L525.5 340.2 L526.5 341.1 L527.5 342.0 L528.5 342.9 L529.5 343.8 L530.5 344.6 L531.5 345.5 L532.5 346.3 L533.5 347.0 L534.5 347.8 L535.5 348.5 L536.5 349.2 L537.5 349.9 L538.5 350.5 L539.5 351.2 L540.5 351.8 L541.5 352.4 L542.5 352.9 L543.5 353.5 L544.5 354.0 L545.5 354.6 L546.5 355.1 L547.5 355.5 L548.5 356.0 L549.5 356.5 L550.5 356.9 L551.5 357.3 L552.5 357.7 L553.5 358.1 L554.5 358.5 L555.5 358.9 L556.5 359.3 L557.5 359.6 L558.5 360.0 L559.5 360.3 L560.5 360.6 L561.5 360.9 L562.5 361.2 L563.5 361.5 L564.5 361.8 L565.5 362.1 L566.5 362.4 L567.5 362.7 L568.5 362.9 L569.5 363.2 L570.5 363.5 L571.5 363.7 L572.5 364.0 L573.5 364.2 L574.5 364.5 L575.5 364.7 L576.5 364.9 L577.5 365.2 L578.5 365.4 L579.5 365.7 L580.5 365.9 L581.5 366.1 L582.5 366.4 L583.5 366.6 L584.5 366.8 L585.5 367.0 L586.5 367.3 L587.5 367.5 L588.5 367.7 L589.5 367.9 L590.5 368.2 L591.5 368.4 L592.5 368.6 L593.5 368.8 L594.5 369.1 L595.5 369.3 L596.5 369.5 L597.5 369.7 L598.5 370.0 L599.5 370.2 L600.5 370.4 L601.5 370.6 L602.5 370.8 L603.5 371.1 L604.5 371.3 L605.5 371.5 L606.5 371.7 L607.5 372.0 L608.5 372.2 L609.5 372.4 L610.5 372.7 L611.5 372.9 L612.5 373.1 L613.5 373.4 L614.5 373.6 L615.5 373.9 L616.5 374.1 L617.5 374.4 L618.5 374.6 L619.5 374.9 L620.5 375.2 L621.5 375.4 L622.5 375.7 L623.5 376.0 L624.5 376.3 L625.5 376.5 L626.5 376.8 L627.5 377.1 L628.5 377.4 L629.5 377.7 L630.5 378.1 L631.5 378.4 L632.5 378.7 L633.5 379.0 L634.5 379.4 L635.5 379.7 L636.5 380.0 L637.5 380.4 L638.5 380.8 L639.5 381.1 L640.5 381.5 L641.5 381.9 L642.5 382.3 L643.5 382.7 L644.5 383.1 L645.5 383.5 L646.5 383.9 L647.5 384.3 L648.5 384.8 L649.5 385.2 L650.5 385.7 L651.5 386.1 L652.5 386.6 L653.5 387.1 L654.5 387.6 L655.5 388.2 L656.5 388.7 L657.5 389.2 L658.5 389.8 L659.5 390.3 L660.5 390.9 L661.5 391.5 L662.5 392.0 L663.5 392.6 L664.5 393.3 L665.5 393.9 L666.5 394.5 L667.5 395.1 L668.5 395.8 L669.5 396.5 L670.5 397.1 L671.5 397.8 L672.5 398.5 L673.5 399.2 L674.5 400.0 L675.5 400.7 L676.5 401.4 L677.5 402.2 L678.5 403.0 L679.5 403.8 L680.5 404.6 L681.5 405.4 L682.5 406.2 L683.5 407.0 L684.5 407.9 L685.5 408.8 L686.5 409.7 L687.5 410.6 L688.5 411.5 L689.5 412.4 L690.5 413.4 L691.5 414.3 L692.5 415.3 L693.5 416.3 L694.5 417.3 L695.5 418.3 L696.5 419.4 L697.5 420.4 L698.5 421.5 L699.5 422.6 L700.5 423.7 L701.5 424.8 L702.5 426.0 L703.5 427.1 L704.5 428.3 L705.5 429.5 L706.5 430.7 L707.5 431.9 L708.5 433.2 L709.5 434.5 L710.5 435.8 L711.5 437.1 L712.5 438.4 L713.5 439.7 L714.5 441.1 L715.5 442.5 L716.5 443.9 L717.5 445.3 L718.5 446.8 L719.5 448.2 L720.5 449.7 L721.5 451.2 L722.5 452.8 L723.5 454.3 L724.5 455.9 L725.5 457.5 L726.5 459.1 L727.5 460.8 L728.5 462.4 L729.5 464.1 L730.5 465.8 L731.5 467.5 L732.5 469.3 L733.5 471.1 L734.5 472.9 L735.5 474.7 L736.5 476.5 L737.5 478.4 L738.5 480.3 L739.5 482.2 L740.5 484.2 L741.5 486.1 L742.5 488.1 L743.5 490.1 L744.5 492.2 L745.5 494.3 L746.5 496.4 L747.5 498.5 L748.5 500.6 L749.5 502.8 L750.5 505.0 L751.5 507.3 L752.5 509.5 L753.5 511.8 L754.5 514.2 L755.5 516.6 L756.5 519.0 L757.5 521.4 L758.5 523.9 L759.5 526.5 L760.5 529.0 L761.5 531.6 L762.5 534.3 L763.5 537.0 L764.5 539.8 L765.5 542.6 L766.5 545.4 L767.5 548.3 L768.5 551.2 L769.5 554.2 L770.5 557.3 L771.5 560.4 L772.5 563.5 L773.5 566.7 L774.5 570.0 L775.5 573.3 L776.5 576.7 L777.5 580.1 L778.5 583.6 L779.5 587.1 L780.5 590.7 L781.5 594.4 L782.5 598.2 L783.5 602.0 L784.5 605.9 L785.5 609.8 L786.5 613.8 L787.5 617.9 L788.5 622.1 L789.5 626.4 L790.5 630.7 L791.5 635.1 L792.5 639.6 L793.5 644.2 L794.5 649.0 L795.5 653.8 L796.5 658.7 L797.5 663.7 L798.5 668.8 L799.5 674.0 L800.5 679.3 L801.5 684.7 L802.5 690.3 L803.5 696.0 L804.5 701.8 L805.5 707.7 L806.5 713.7 L807.5 719.9 L808.5 726.2 L809.5 732.7 L810.5 739.3 L811.5 746.0 L812.5 752.9 L813.5 759.9 L814.5 767.0" stroke="#55075f" stroke-width="2.8" stroke-dasharray="1.8 4.9 11.9 4.9"/>
<path d="M139.5 597.8 L140.5 591.4 L141.5 585.1 L142.5 578.8 L143.5 572.5 L144.5 566.3 L145.5 560.1 L146.5 553.9 L147.5 547.7 L148.5 541.5 L149.5 535.4 L150.5 529.3 L151.5 523.2 L152.5 517.2 L153.5 511.2 L154.5 505.2 L155.5 499.3 L156.5 493.4 L157.5 487.5 L158.5 481.7 L159.5 475.9 L160.5 470.1 L161.5 464.4 L162.5 458.7 L163.5 453.1 L164.5 447.5 L165.5 441.9 L166.5 436.4 L167.5 430.9 L168.5 425.5 L169.5 420.1 L170.5 414.8 L171.5 409.5 L172.5 404.3 L173.5 399.1 L174.5 393.9 L175.5 388.9 L176.5 383.8 L177.5 378.8 L178.5 373.9 L179.5 369.0 L180.5 364.2 L181.5 359.5 L182.5 354.8 L183.5 350.1 L184.5 345.5 L185.5 341.0 L186.5 336.6 L187.5 332.2 L188.5 327.8 L189.5 323.6 L190.5 319.3 L191.5 315.2 L192.5 311.1 L193.5 307.1 L194.5 303.1 L195.5 299.2 L196.5 295.4 L197.5 291.6 L198.5 287.8 L199.5 284.2 L200.5 280.5 L201.5 276.9 L202.5 273.4 L203.5 269.9 L204.5 266.5 L205.5 263.1 L206.5 259.7 L207.5 256.4 L208.5 253.2 L209.5 249.9 L210.5 246.8 L211.5 243.6 L212.5 240.5 L213.5 237.4 L214.5 234.4 L215.5 231.4 L216.5 228.4 L217.5 225.5 L218.5 222.6 L219.5 219.7 L220.5 216.9 L221.5 214.1 L222.5 211.3 L223.5 208.5 L224.5 205.8 L225.5 203.1 L226.5 200.4 L227.5 197.8 L228.5 195.1 L229.5 192.6 L230.5 190.0 L231.5 187.5 L232.5 185.0 L233.5 182.6 L234.5 180.2 L235.5 177.8 L236.5 175.4 L237.5 173.1 L238.5 170.8 L239.5 168.6 L240.5 166.4 L241.5 164.2 L242.5 162.0 L243.5 159.9 L244.5 157.8 L245.5 155.8 L246.5 153.8 L247.5 151.8 L248.5 149.9 L249.5 148.0 L250.5 146.2 L251.5 144.4 L252.5 142.6 L253.5 140.8 L254.5 139.1 L255.5 137.5 L256.5 135.9 L257.5 134.3 L258.5 132.7 L259.5 131.2 L260.5 129.7 L261.5 128.3 L262.5 126.9 L263.5 125.5 L264.5 124.2 L265.5 122.9 L266.5 121.6 L267.5 120.4 L268.5 119.2 L269.5 118.1 L270.5 116.9 L271.5 115.9 L272.5 114.8 L273.5 113.8 L274.5 112.8 L275.5 111.8 L276.5 110.9 L277.5 110.0 L278.5 109.1 L279.5 108.3 L280.5 107.5 L281.5 106.7 L282.5 106.0 L283.5 105.3 L284.5 104.6 L285.5 103.9 L286.5 103.3 L287.5 102.7 L288.5 102.1 L289.5 101.6 L290.5 101.1 L291.5 100.6 L292.5 100.1 L293.5 99.7 L294.5 99.3 L295.5 98.9 L296.5 98.5 L297.5 98.2 L298.5 97.9 L299.5 97.6 L300.5 97.4 L301.5 97.1 L302.5 96.9 L303.5 96.7 L304.5 96.6 L305.5 96.4 L306.5 96.3 L307.5 96.2 L308.5 96.1 L309.5 96.1 L310.5 96.1 L311.5 96.0 L312.5 96.1 L313.5 96.1 L314.5 96.1 L315.5 96.2 L316.5 96.3 L317.5 96.4 L318.5 96.5 L319.5 96.7 L320.5 96.9 L321.5 97.0 L322.5 97.3 L323.5 97.5 L324.5 97.7 L325.5 98.0 L326.5 98.3 L327.5 98.6 L328.5 98.9 L329.5 99.3 L330.5 99.6 L331.5 100.0 L332.5 100.4 L333.5 100.8 L334.5 101.2 L335.5 101.7 L336.5 102.2 L337.5 102.6 L338.5 103.1 L339.5 103.7 L340.5 104.2 L341.5 104.8 L342.5 105.3 L343.5 105.9 L344.5 106.5 L345.5 107.2 L346.5 107.8 L347.5 108.4 L348.5 109.1 L349.5 109.8 L350.5 110.5 L351.5 111.2 L352.5 112.0 L353.5 112.7 L354.5 113.5 L355.5 114.3 L356.5 115.1 L357.5 115.9 L358.5 116.8 L359.5 117.6 L360.5 118.5 L361.5 119.4 L362.5 120.3 L363.5 121.2 L364.5 122.1 L365.5 123.0 L366.5 124.0 L367.5 125.0 L368.5 126.0 L369.5 127.0 L370.5 128.0 L371.5 129.0 L372.5 130.0 L373.5 131.1 L374.5 132.2 L375.5 133.2 L376.5 134.3 L377.5 135.5 L378.5 136.6 L379.5 137.7 L380.5 138.9 L381.5 140.0 L382.5 141.2 L383.5 142.4 L384.5 143.5 L385.5 144.7 L386.5 146.0 L387.5 147.2 L388.5 148.4 L389.5 149.6 L390.5 150.9 L391.5 152.1 L392.5 153.4 L393.5 154.6 L394.5 155.9 L395.5 157.2 L396.5 158.4 L397.5 159.7 L398.5 161.0 L399.5 162.3 L400.5 163.6 L401.5 164.9 L402.5 166.2 L403.5 167.5 L404.5 168.8 L405.5 170.1 L406.5 171.4 L407.5 172.7 L408.5 174.1 L409.5 175.4 L410.5 176.7 L411.5 178.0 L412.5 179.3 L413.5 180.6 L414.5 181.9 L415.5 183.2 L416.5 184.5 L417.5 185.8 L418.5 187.1 L419.5 188.4 L420.5 189.7 L421.5 191.0 L422.5 192.3 L423.5 193.6 L424.5 194.8 L425.5 196.1 L426.5 197.4 L427.5 198.6 L428.5 199.8 L429.5 201.1 L430.5 202.3 L431.5 203.5 L432.5 204.8 L433.5 206.0 L434.5 207.2 L435.5 208.4 L436.5 209.6 L437.5 210.8 L438.5 212.0 L439.5 213.1 L440.5 214.3 L441.5 215.5 L442.5 216.7 L443.5 217.9 L444.5 219.0 L445.5 220.2 L446.5 221.4 L447.5 222.5 L448.5 223.7 L449.5 224.9 L450.5 226.0 L451.5 227.2 L452.5 228.4 L453.5 229.6 L454.5 230.7 L455.5 231.9 L456.5 233.1 L457.5 234.3 L458.5 235.5 L459.5 236.7 L460.5 237.8 L461.5 239.0 L462.5 240.2 L463.5 241.4 L464.5 242.7 L465.5 243.9 L466.5 245.1 L467.5 246.3 L468.5 247.6 L469.5 248.8 L470.5 250.1 L471.5 251.3 L472.5 252.6 L473.5 253.9 L474.5 255.2 L475.5 256.5 L476.5 257.8 L477.5 259.1 L478.5 260.4 L479.5 261.7 L480.5 263.1 L481.5 264.4 L482.5 265.8 L483.5 267.1 L484.5 268.5 L485.5 269.9 L486.5 271.3 L487.5 272.6 L488.5 274.0 L489.5 275.4 L490.5 276.8 L491.5 278.2 L492.5 279.6 L493.5 281.0 L494.5 282.4 L495.5 283.8 L496.5 285.2 L497.5 286.5 L498.5 287.9 L499.5 289.3 L500.5 290.7 L501.5 292.1 L502.5 293.4 L503.5 294.8 L504.5 296.2 L505.5 297.5 L506.5 298.9 L507.5 300.2 L508.5 301.5 L509.5 302.9 L510.5 304.2 L511.5 305.5 L512.5 306.8 L513.5 308.1 L514.5 309.3 L515.5 310.6 L516.5 311.8 L517.5 313.1 L518.5 314.3 L519.5 315.5 L520.5 316.7 L521.5 317.8 L522.5 319.0 L523.5 320.1 L524.5 321.2 L525.5 322.3 L526.5 323.4 L527.5 324.5 L528.5 325.5 L529.5 326.6 L530.5 327.6 L531.5 328.5 L532.5 329.5 L533.5 330.4 L534.5 331.4 L535.5 332.3 L536.5 333.1 L537.5 334.0 L538.5 334.9 L539.5 335.7 L540.5 336.5 L541.5 337.3 L542.5 338.1 L543.5 338.8 L544.5 339.6 L545.5 340.3 L546.5 341.0 L547.5 341.7 L548.5 342.4 L549.5 343.1 L550.5 343.7 L551.5 344.4 L552.5 345.0 L553.5 345.6 L554.5 346.2 L555.5 346.8 L556.5 347.4 L557.5 347.9 L558.5 348.5 L559.5 349.0 L560.5 349.6 L561.5 350.1 L562.5 350.6 L563.5 351.1 L564.5 351.6 L565.5 352.0 L566.5 352.5 L567.5 353.0 L568.5 353.4 L569.5 353.8 L570.5 354.3 L571.5 354.7 L572.5 355.1 L573.5 355.5 L574.5 355.9 L575.5 356.3 L576.5 356.7 L577.5 357.1 L578.5 357.5 L579.5 357.8 L580.5 358.2 L581.5 358.5 L582.5 358.9 L583.5 359.2 L584.5 359.6 L585.5 359.9 L586.5 360.3 L587.5 360.6 L588.5 360.9 L589.5 361.2 L590.5 361.5 L591.5 361.9 L592.5 362.2 L593.5 362.5 L594.5 362.8 L595.5 363.1 L596.5 363.4 L597.5 363.7 L598.5 364.0 L599.5 364.3 L600.5 364.6 L601.5 364.8 L602.5 365.1 L603.5 365.4 L604.5 365.7 L605.5 366.0 L606.5 366.3 L607.5 366.6 L608.5 366.9 L609.5 367.1 L610.5 367.4 L611.5 367.7 L612.5 368.0 L613.5 368.3 L614.5 368.6 L615.5 368.9 L616.5 369.2 L617.5 369.5 L618.5 369.8 L619.5 370.1 L620.5 370.4 L621.5 370.7 L622.5 371.0 L623.5 371.3 L624.5 371.6 L625.5 371.9 L626.5 372.3 L627.5 372.6 L628.5 372.9 L629.5 373.2 L630.5 373.6 L631.5 373.9 L632.5 374.3 L633.5 374.6 L634.5 375.0 L635.5 375.4 L636.5 375.8 L637.5 376.1 L638.5 376.5 L639.5 376.9 L640.5 377.3 L641.5 377.7 L642.5 378.1 L643.5 378.6 L644.5 379.0 L645.5 379.4 L646.5 379.9 L647.5 380.3 L648.5 380.8 L649.5 381.3 L650.5 381.7 L651.5 382.2 L652.5 382.7 L653.5 383.2 L654.5 383.8 L655.5 384.3 L656.5 384.8 L657.5 385.4 L658.5 385.9 L659.5 386.5 L660.5 387.1 L661.5 387.7 L662.5 388.3 L663.5 388.9 L664.5 389.5 L665.5 390.2 L666.5 390.8 L667.5 391.5 L668.5 392.2 L669.5 392.9 L670.5 393.6 L671.5 394.3 L672.5 395.0 L673.5 395.8 L674.5 396.5 L675.5 397.3 L676.5 398.1 L677.5 398.9 L678.5 399.7 L679.5 400.5 L680.5 401.4 L681.5 402.2 L682.5 403.1 L683.5 404.0 L684.5 404.9 L685.5 405.9 L686.5 406.8 L687.5 407.8 L688.5 408.7 L689.5 409.7 L690.5 410.7 L691.5 411.8 L692.5 412.8 L693.5 413.9 L694.5 414.9 L695.5 416.0 L696.5 417.1 L697.5 418.3 L698.5 419.4 L699.5 420.6 L700.5 421.7 L701.5 422.9 L702.5 424.1 L703.5 425.4 L704.5 426.6 L705.5 427.9 L706.5 429.2 L707.5 430.4 L708.5 431.8 L709.5 433.1 L710.5 434.4 L711.5 435.8 L712.5 437.2 L713.5 438.6 L714.5 440.0 L715.5 441.4 L716.5 442.9 L717.5 444.4 L718.5 445.8 L719.5 447.4 L720.5 448.9 L721.5 450.4 L722.5 452.0 L723.5 453.6 L724.5 455.2 L725.5 456.8 L726.5 458.4 L727.5 460.0 L728.5 461.7 L729.5 463.4 L730.5 465.1 L731.5 466.8 L732.5 468.6 L733.5 470.3 L734.5 472.1 L735.5 473.9 L736.5 475.7 L737.5 477.6 L738.5 479.4 L739.5 481.3 L740.5 483.2 L741.5 485.1 L742.5 487.0 L743.5 489.0 L744.5 490.9 L745.5 492.9 L746.5 494.9 L747.5 497.0 L748.5 499.0 L749.5 501.1 L750.5 503.2 L751.5 505.3 L752.5 507.5 L753.5 509.7 L754.5 511.9 L755.5 514.2 L756.5 516.5 L757.5 518.8 L758.5 521.1 L759.5 523.6 L760.5 526.0 L761.5 528.5 L762.5 531.0 L763.5 533.6 L764.5 536.2 L765.5 538.9 L766.5 541.7 L767.5 544.4 L768.5 547.3 L769.5 550.2 L770.5 553.1 L771.5 556.1 L772.5 559.2 L773.5 562.3 L774.5 565.5 L775.5 568.7 L776.5 572.0 L777.5 575.4 L778.5 578.9 L779.5 582.4 L780.5 586.0 L781.5 589.7 L782.5 593.4 L783.5 597.2 L784.5 601.1 L785.5 605.1 L786.5 609.1 L787.5 613.3 L788.5 617.5 L789.5 621.8 L790.5 626.2 L791.5 630.7 L792.5 635.3 L793.5 639.9 L794.5 644.7 L795.5 649.6 L796.5 654.6 L797.5 659.7 L798.5 664.8 L799.5 670.1 L800.5 675.5 L801.5 681.0 L802.5 686.7 L803.5 692.4 L804.5 698.3 L805.5 704.2 L806.5 710.3 L807.5 716.6 L808.5 722.9 L809.5 729.4 L810.5 736.0 L811.5 742.7 L812.5 749.6 L813.5 756.6 L814.5 763.7" stroke="#ff8c00" stroke-width="2.8" stroke-dasharray="21 3.2 1.8 3.2"/>
</g>
<g stroke="#000" fill="none" stroke-width="1.7">
<path d="M252.9 115.8V104.5M252.9 115.8V126.2" stroke-dasharray="22 2.8 1.7 2.8" stroke-width="1.8"/>
<path d="M247.6 104.5H258.2M247.6 126.2H258.2" stroke-width="1.6"/>
<path d="M249.3 112.2L256.5 119.4M249.3 119.4L256.5 112.2M252.9 111.2V115.8" stroke-width="1.5"/>
<path d="M285.4 138.2V74.9M285.4 138.2V202.5" stroke-dasharray="22 2.8 1.7 2.8" stroke-width="1.8"/>
<path d="M280.1 74.9H290.7M280.1 202.5H290.7" stroke-width="1.6"/>
<path d="M281.8 134.6L289.0 141.8M281.8 141.8L289.0 134.6M285.4 133.6V138.2" stroke-width="1.5"/>
<path d="M306.6 146.2V121.4M306.6 146.2V170.7" stroke-dasharray="22 2.8 1.7 2.8" stroke-width="1.8"/>
<path d="M301.3 121.4H311.9M301.3 170.7H311.9" stroke-width="1.6"/>
<path d="M303.0 142.6L310.2 149.8M303.0 149.8L310.2 142.6M306.6 141.6V146.2" stroke-width="1.5"/>
<path d="M328.0 155.1V141.8M328.0 155.1V170.7" stroke-dasharray="22 2.8 1.7 2.8" stroke-width="1.8"/>
<path d="M322.7 141.8H333.3M322.7 170.7H333.3" stroke-width="1.6"/>
<path d="M324.4 151.5L331.6 158.7M324.4 158.7L331.6 151.5M328.0 150.5V155.1" stroke-width="1.5"/>
<path d="M349.7 147.8V138.2M349.7 147.8V158.7" stroke-dasharray="22 2.8 1.7 2.8" stroke-width="1.8"/>
<path d="M344.4 138.2H355.0M344.4 158.7H355.0" stroke-width="1.6"/>
<path d="M346.1 144.2L353.3 151.4M346.1 151.4L353.3 144.2M349.7 143.2V147.8" stroke-width="1.5"/>
<path d="M370.9 174.3V157.5M370.9 174.3V188.8" stroke-dasharray="22 2.8 1.7 2.8" stroke-width="1.8"/>
<path d="M365.6 157.5H376.2M365.6 188.8H376.2" stroke-width="1.6"/>
<path d="M367.3 170.7L374.5 177.9M367.3 177.9L374.5 170.7M370.9 169.7V174.3" stroke-width="1.5"/>
<path d="M392.5 188.5V171.9M392.5 188.5V206.4" stroke-dasharray="22 2.8 1.7 2.8" stroke-width="1.8"/>
<path d="M387.2 171.9H397.8M387.2 206.4H397.8" stroke-width="1.6"/>
<path d="M388.9 184.9L396.1 192.1M388.9 192.1L396.1 184.9M392.5 183.9V188.5" stroke-width="1.5"/>
<path d="M414.2 224.2V205.0M414.2 224.2V243.5" stroke-dasharray="22 2.8 1.7 2.8" stroke-width="1.8"/>
<path d="M408.9 205.0H419.5M408.9 243.5H419.5" stroke-width="1.6"/>
<path d="M410.6 220.6L417.8 227.8M410.6 227.8L417.8 220.6M414.2 219.6V224.2" stroke-width="1.5"/>
<path d="M435.8 231.5V202.6M435.8 231.5V262.0" stroke-dasharray="22 2.8 1.7 2.8" stroke-width="1.8"/>
<path d="M430.5 202.6H441.1M430.5 262.0H441.1" stroke-width="1.6"/>
<path d="M432.2 227.9L439.4 235.1M432.2 235.1L439.4 227.9M435.8 226.9V231.5" stroke-width="1.5"/>
<path d="M457.0 263.2V219.9M457.0 263.2V306.1" stroke-dasharray="22 2.8 1.7 2.8" stroke-width="1.8"/>
<path d="M451.7 219.9H462.3M451.7 306.1H462.3" stroke-width="1.6"/>
<path d="M453.4 259.6L460.6 266.8M453.4 266.8L460.6 259.6M457.0 258.6V263.2" stroke-width="1.5"/>
<path d="M518.2 288.2V218.2M518.2 288.2V357.5" stroke-dasharray="22 2.8 1.7 2.8" stroke-width="1.8"/>
<path d="M512.9 218.2H523.5M512.9 357.5H523.5" stroke-width="1.6"/>
<path d="M514.6 284.6L521.8 291.8M514.6 291.8L521.8 284.6M518.2 283.6V288.2" stroke-width="1.5"/>
<path d="M545.2 343.1V313.7M545.2 343.1V372.7" stroke-dasharray="22 2.8 1.7 2.8" stroke-width="1.8"/>
<path d="M540.6 313.7H549.8M540.6 372.7H549.8" stroke-width="1.6"/>
<path d="M542.1 340.0L548.3 346.2M542.1 346.2L548.3 340.0M545.2 339.0V343.1" stroke-width="1.5"/>
<path d="M553.4 345.0V331.7M553.4 345.0V359.4" stroke-dasharray="22 2.8 1.7 2.8" stroke-width="1.8"/>
<path d="M548.8 331.7H558.0M548.8 359.4H558.0" stroke-width="1.6"/>
<path d="M550.3 341.9L556.5 348.1M550.3 348.1L556.5 341.9M553.4 340.9V345.0" stroke-width="1.5"/>
<path d="M561.4 358.2V352.2M561.4 358.2V365.4" stroke-dasharray="22 2.8 1.7 2.8" stroke-width="1.8"/>
<path d="M556.8 352.2H566.0M556.8 365.4H566.0" stroke-width="1.6"/>
<path d="M558.3 355.1L564.5 361.3M558.3 361.3L564.5 355.1M561.4 354.1V358.2" stroke-width="1.5"/>
<path d="M568.6 358.2V352.0M568.6 358.2V365.0" stroke-dasharray="22 2.8 1.7 2.8" stroke-width="1.8"/>
<path d="M564.0 352.0H573.2M564.0 365.0H573.2" stroke-width="1.6"/>
<path d="M565.5 355.1L571.7 361.3M565.5 361.3L571.7 355.1M568.6 354.1V358.2" stroke-width="1.5"/>
<path d="M576.5 358.2V354.6M576.5 358.2V364.2" stroke-dasharray="22 2.8 1.7 2.8" stroke-width="1.8"/>
<path d="M571.9 354.6H581.1M571.9 364.2H581.1" stroke-width="1.6"/>
<path d="M573.4 355.1L579.6 361.3M573.4 361.3L579.6 355.1M576.5 354.1V358.2" stroke-width="1.5"/>
<path d="M584.2 369.0V364.2M584.2 369.0V375.1" stroke-dasharray="22 2.8 1.7 2.8" stroke-width="1.8"/>
<path d="M579.6 364.2H588.8M579.6 375.1H588.8" stroke-width="1.6"/>
<path d="M581.1 365.9L587.3 372.1M581.1 372.1L587.3 365.9M584.2 364.9V369.0" stroke-width="1.5"/>
<path d="M592.7 352.2V346.9M592.7 352.2V361.8" stroke-dasharray="22 2.8 1.7 2.8" stroke-width="1.8"/>
<path d="M588.1 346.9H597.3M588.1 361.8H597.3" stroke-width="1.6"/>
<path d="M589.6 349.1L595.8 355.3M589.6 355.3L595.8 349.1M592.7 348.1V352.2" stroke-width="1.5"/>
<path d="M601.0 372.7V364.2M601.0 372.7V383.5" stroke-dasharray="22 2.8 1.7 2.8" stroke-width="1.8"/>
<path d="M596.4 364.2H605.6M596.4 383.5H605.6" stroke-width="1.6"/>
<path d="M597.9 369.6L604.1 375.8M597.9 375.8L604.1 369.6M601.0 368.6V372.7" stroke-width="1.5"/>
<path d="M609.5 376.3V366.6M609.5 376.3V385.9" stroke-dasharray="22 2.8 1.7 2.8" stroke-width="1.8"/>
<path d="M604.9 366.6H614.1M604.9 385.9H614.1" stroke-width="1.6"/>
<path d="M606.4 373.2L612.6 379.4M606.4 379.4L612.6 373.2M609.5 372.2V376.3" stroke-width="1.5"/>
<path d="M618.0 376.3V366.6M618.0 376.3V388.3" stroke-dasharray="22 2.8 1.7 2.8" stroke-width="1.8"/>
<path d="M613.4 366.6H622.6M613.4 388.3H622.6" stroke-width="1.6"/>
<path d="M614.9 373.2L621.1 379.4M614.9 379.4L621.1 373.2M618.0 372.2V376.3" stroke-width="1.5"/>
<path d="M624.0 372.7V358.2M624.0 372.7V385.9" stroke-dasharray="22 2.8 1.7 2.8" stroke-width="1.8"/>
<path d="M619.4 358.2H628.6M619.4 385.9H628.6" stroke-width="1.6"/>
<path d="M620.9 369.6L627.1 375.8M620.9 375.8L627.1 369.6M624.0 368.6V372.7" stroke-width="1.5"/>
<path d="M631.9 390.7V377.5M631.9 390.7V404.7" stroke-dasharray="22 2.8 1.7 2.8" stroke-width="1.8"/>
<path d="M627.3 377.5H636.5M627.3 404.7H636.5" stroke-width="1.6"/>
<path d="M628.8 387.6L635.0 393.8M628.8 393.8L635.0 387.6M631.9 386.6V390.7" stroke-width="1.5"/>
<path d="M639.6 367.8V353.4M639.6 367.8V385.9" stroke-dasharray="22 2.8 1.7 2.8" stroke-width="1.8"/>
<path d="M635.0 353.4H644.2M635.0 385.9H644.2" stroke-width="1.6"/>
<path d="M636.5 364.7L642.7 370.9M636.5 370.9L642.7 364.7M639.6 363.7V367.8" stroke-width="1.5"/>
<path d="M648.0 381.1V364.2M648.0 381.1V400.3" stroke-dasharray="22 2.8 1.7 2.8" stroke-width="1.8"/>
<path d="M643.4 364.2H652.6M643.4 400.3H652.6" stroke-width="1.6"/>
<path d="M644.9 378.0L651.1 384.2M644.9 384.2L651.1 378.0M648.0 377.0V381.1" stroke-width="1.5"/>
<path d="M656.4 377.5V359.4M656.4 377.5V397.9" stroke-dasharray="22 2.8 1.7 2.8" stroke-width="1.8"/>
<path d="M651.8 359.4H661.0M651.8 397.9H661.0" stroke-width="1.6"/>
<path d="M653.3 374.4L659.5 380.6M653.3 380.6L659.5 374.4M656.4 373.4V377.5" stroke-width="1.5"/>
<path d="M664.1 379.9V360.6M664.1 379.9V405.1" stroke-dasharray="22 2.8 1.7 2.8" stroke-width="1.8"/>
<path d="M659.5 360.6H668.7M659.5 405.1H668.7" stroke-width="1.6"/>
<path d="M661.0 376.8L667.2 383.0M661.0 383.0L667.2 376.8M664.1 375.8V379.9" stroke-width="1.5"/>
<path d="M672.1 393.1V371.5M672.1 393.1V416.0" stroke-dasharray="22 2.8 1.7 2.8" stroke-width="1.8"/>
<path d="M667.5 371.5H676.7M667.5 416.0H676.7" stroke-width="1.6"/>
<path d="M669.0 390.0L675.2 396.2M669.0 396.2L675.2 390.0M672.1 389.0V393.1" stroke-width="1.5"/>
<path d="M679.3 402.7V371.5M679.3 402.7V431.6" stroke-dasharray="22 2.8 1.7 2.8" stroke-width="1.8"/>
<path d="M674.7 371.5H683.9M674.7 431.6H683.9" stroke-width="1.6"/>
<path d="M676.2 399.6L682.4 405.8M676.2 405.8L682.4 399.6M679.3 398.6V402.7" stroke-width="1.5"/>
<path d="M687.2 405.1V376.3M687.2 405.1V436.4" stroke-dasharray="22 2.8 1.7 2.8" stroke-width="1.8"/>
<path d="M682.6 376.3H691.8M682.6 436.4H691.8" stroke-width="1.6"/>
<path d="M684.1 402.0L690.3 408.2M684.1 408.2L690.3 402.0M687.2 401.0V405.1" stroke-width="1.5"/>
<path d="M694.9 419.6V391.9M694.9 419.6V450.9" stroke-dasharray="22 2.8 1.7 2.8" stroke-width="1.8"/>
<path d="M690.3 391.9H699.5M690.3 450.9H699.5" stroke-width="1.6"/>
<path d="M691.8 416.5L698.0 422.7M691.8 422.7L698.0 416.5M694.9 415.5V419.6" stroke-width="1.5"/>
<path d="M702.7 428.1V383.1M702.7 428.1V472.5" stroke-dasharray="22 2.8 1.7 2.8" stroke-width="1.8"/>
<path d="M697.4 383.1H708.0M697.4 472.5H708.0" stroke-width="1.6"/>
<path d="M699.6 425.0L705.8 431.2M699.6 431.2L705.8 425.0M702.7 424.0V428.1" stroke-width="1.5"/>
<path d="M709.9 480.0V420.0M709.9 480.0V539.5" stroke-dasharray="22 2.8 1.7 2.8" stroke-width="1.8"/>
<path d="M704.6 420.0H715.2M704.6 539.5H715.2" stroke-width="1.6"/>
<path d="M706.8 476.9L713.0 483.1M706.8 483.1L713.0 476.9M709.9 475.9V480.0" stroke-width="1.5"/>
<path d="M718.6 428.2V353.7M718.6 428.2V503.0" stroke-dasharray="22 2.8 1.7 2.8" stroke-width="1.8"/>
<path d="M713.3 353.7H723.9M713.3 503.0H723.9" stroke-width="1.6"/>
<path d="M715.5 425.1L721.7 431.3M715.5 431.3L721.7 425.1M718.6 424.1V428.2" stroke-width="1.5"/>
<path d="M726.7 501.2V350.5M726.7 501.2V648.7" stroke-dasharray="22 2.8 1.7 2.8" stroke-width="1.8"/>
<path d="M721.4 350.5H732.0M721.4 648.7H732.0" stroke-width="1.6"/>
<path d="M723.6 498.1L729.8 504.3M723.6 504.3L729.8 498.1M726.7 497.1V501.2" stroke-width="1.5"/>
<path d="M734.5 570.0V421.5M734.5 570.0V719.7" stroke-dasharray="22 2.8 1.7 2.8" stroke-width="1.8"/>
<path d="M729.2 421.5H739.8M729.2 719.7H739.8" stroke-width="1.6"/>
<path d="M731.4 566.9L737.6 573.1M731.4 573.1L737.6 566.9M734.5 565.9V570.0" stroke-width="1.5"/>
<path d="M742.3 487.0V264.0M742.3 487.0V711.0" stroke-dasharray="22 2.8 1.7 2.8" stroke-width="1.8"/>
<path d="M737.0 264.0H747.6M737.0 711.0H747.6" stroke-width="1.6"/>
<path d="M739.2 483.9L745.4 490.1M739.2 490.1L745.4 483.9M742.3 482.9V487.0" stroke-width="1.5"/>
</g>
<g font-family='"DejaVu Serif", "Liberation Serif", serif'>
<text x="94.04" y="14.60" font-size="18.7" fill="#000" stroke="#000" stroke-width="0.45" textLength="14.08" lengthAdjust="spacingAndGlyphs">−</text>
<text x="108.51" y="14.60" font-size="18.7" fill="#000" stroke="#000" stroke-width="0.45" textLength="13.61" lengthAdjust="spacingAndGlyphs">9</text>
<text x="54.53" y="24.20" font-size="30.0" fill="#000" textLength="38.94" lengthAdjust="spacingAndGlyphs">10</text>
<text x="81.38" y="163.50" font-size="18.7" fill="#000" stroke="#000" stroke-width="0.45" textLength="15.28" lengthAdjust="spacingAndGlyphs">−</text>
<text x="97.82" y="163.50" font-size="18.7" fill="#000" stroke="#000" stroke-width="0.45" textLength="24.16" lengthAdjust="spacingAndGlyphs">10</text>
<text x="42.33" y="173.10" font-size="30.0" fill="#000" textLength="38.94" lengthAdjust="spacingAndGlyphs">10</text>
<text x="81.38" y="312.40" font-size="18.7" fill="#000" stroke="#000" stroke-width="0.45" textLength="15.28" lengthAdjust="spacingAndGlyphs">−</text>
<text x="97.65" y="312.40" font-size="18.7" fill="#000" stroke="#000" stroke-width="0.45" textLength="25.95" lengthAdjust="spacingAndGlyphs">11</text>
<text x="42.33" y="322.00" font-size="30.0" fill="#000" textLength="38.94" lengthAdjust="spacingAndGlyphs">10</text>
<text x="81.38" y="461.30" font-size="18.7" fill="#000" stroke="#000" stroke-width="0.45" textLength="15.28" lengthAdjust="spacingAndGlyphs">−</text>
<text x="97.76" y="461.30" font-size="18.7" fill="#000" stroke="#000" stroke-width="0.45" textLength="24.85" lengthAdjust="spacingAndGlyphs">12</text>
<text x="42.33" y="470.90" font-size="30.0" fill="#000" textLength="38.94" lengthAdjust="spacingAndGlyphs">10</text>
<text x="81.38" y="610.20" font-size="18.7" fill="#000" stroke="#000" stroke-width="0.45" textLength="15.28" lengthAdjust="spacingAndGlyphs">−</text>
<text x="97.80" y="610.20" font-size="18.7" fill="#000" stroke="#000" stroke-width="0.45" textLength="24.38" lengthAdjust="spacingAndGlyphs">13</text>
<text x="42.33" y="619.80" font-size="30.0" fill="#000" textLength="38.94" lengthAdjust="spacingAndGlyphs">10</text>
<text x="81.38" y="759.10" font-size="18.7" fill="#000" stroke="#000" stroke-width="0.45" textLength="15.28" lengthAdjust="spacingAndGlyphs">−</text>
<text x="97.85" y="759.10" font-size="18.7" fill="#000" stroke="#000" stroke-width="0.45" textLength="23.83" lengthAdjust="spacingAndGlyphs">14</text>
<text x="42.33" y="768.70" font-size="30.0" fill="#000" textLength="38.94" lengthAdjust="spacingAndGlyphs">10</text>
<text x="104.33" y="797.80" font-size="30.0" fill="#000" textLength="70.99" lengthAdjust="spacingAndGlyphs">0.01</text>
<text x="206.24" y="797.80" font-size="30.0" fill="#000" textLength="50.41" lengthAdjust="spacingAndGlyphs">0.1</text>
<text x="314.32" y="797.80" font-size="30.0" fill="#000" textLength="19.51" lengthAdjust="spacingAndGlyphs">1</text>
<text x="396.74" y="797.80" font-size="30.0" fill="#000" textLength="39.88" lengthAdjust="spacingAndGlyphs">10</text>
<text x="477.99" y="797.80" font-size="30.0" fill="#000" textLength="60.53" lengthAdjust="spacingAndGlyphs">100</text>
<text x="559.91" y="797.80" font-size="30.0" fill="#000" textLength="78.18" lengthAdjust="spacingAndGlyphs">1000</text>
<text x="667.66" y="797.80" font-size="30.0" fill="#000" textLength="38.59" lengthAdjust="spacingAndGlyphs">10</text>
<text x="705.69" y="789.40" font-size="18.7" fill="#000" stroke="#000" stroke-width="0.45" textLength="12.95" lengthAdjust="spacingAndGlyphs">4</text>
<text x="759.26" y="797.80" font-size="30.0" fill="#000" textLength="38.59" lengthAdjust="spacingAndGlyphs">10</text>
<text x="796.46" y="789.40" font-size="18.7" fill="#000" stroke="#000" stroke-width="0.45" textLength="13.80" lengthAdjust="spacingAndGlyphs">5</text>
<text x="372.03" y="841.80" font-size="30" fill="#000" textLength="117.64" lengthAdjust="spacingAndGlyphs">Energy</text>
<text x="507.69" y="841.80" font-size="30" fill="#000" textLength="90.65" lengthAdjust="spacingAndGlyphs">(GeV)</text>
<g transform="translate(27.8,573.5) rotate(-90)">
<text x="-0.61" y="0.00" font-size="30" fill="#000" textLength="18.65" lengthAdjust="spacingAndGlyphs">E</text>
<text x="16.49" y="-11.40" font-size="18.7" fill="#000" stroke="#000" stroke-width="0.45" textLength="17.68" lengthAdjust="spacingAndGlyphs">2</text>
<text x="48.23" y="0.00" font-size="30" fill="#000" textLength="71.65" lengthAdjust="spacingAndGlyphs">Flux</text>
<text x="137.93" y="0.00" font-size="30" fill="#000" textLength="67.54" lengthAdjust="spacingAndGlyphs">(erg</text>
<text x="227.60" y="0.00" font-size="30" fill="#000" textLength="48.20" lengthAdjust="spacingAndGlyphs">cm</text>
<text x="276.82" y="-10.30" font-size="18.7" fill="#000" stroke="#000" stroke-width="0.45" textLength="13.41" lengthAdjust="spacingAndGlyphs">−</text>
<text x="290.65" y="-10.30" font-size="18.7" fill="#000" stroke="#000" stroke-width="0.45" textLength="15.14" lengthAdjust="spacingAndGlyphs">2</text>
<text x="319.89" y="0.00" font-size="30" fill="#000" textLength="18.75" lengthAdjust="spacingAndGlyphs">s</text>
<text x="341.35" y="-10.30" font-size="18.7" fill="#000" stroke="#000" stroke-width="0.45" textLength="13.14" lengthAdjust="spacingAndGlyphs">−</text>
<text x="354.55" y="-10.30" font-size="18.7" fill="#000" stroke="#000" stroke-width="0.45" textLength="10.35" lengthAdjust="spacingAndGlyphs">1</text>
<text x="364.58" y="0.00" font-size="30" fill="#000" textLength="16.26" lengthAdjust="spacingAndGlyphs">)</text>
</g>
<path d="M532.2 79.8H586.6" stroke="#000000" stroke-width="1.8" fill="none"/>
<text x="592.36" y="94.20" font-size="30.0" fill="#000000" textLength="21.02" lengthAdjust="spacingAndGlyphs">R</text>
<text x="614.28" y="103.90" font-size="18.6" fill="#000000" stroke="#000000" stroke-width="0.45" textLength="43.50" lengthAdjust="spacingAndGlyphs">max</text>
<text x="674.96" y="94.20" font-size="30.0" fill="#000000" textLength="25.87" lengthAdjust="spacingAndGlyphs">=</text>
<text x="718.22" y="94.20" font-size="30.0" fill="#000000" textLength="19.00" lengthAdjust="spacingAndGlyphs">1</text>
<text x="754.23" y="94.20" font-size="30.0" fill="#000000" textLength="38.83" lengthAdjust="spacingAndGlyphs">pc</text>
<path d="M532.2 120.6H586.6" stroke="#7f0f0f" stroke-width="1.8" fill="none" stroke-dasharray="2.6 4.0"/>
<text x="592.36" y="135.00" font-size="30.0" fill="#7f0f0f" textLength="21.02" lengthAdjust="spacingAndGlyphs">R</text>
<text x="614.28" y="144.70" font-size="18.6" fill="#7f0f0f" stroke="#7f0f0f" stroke-width="0.45" textLength="43.50" lengthAdjust="spacingAndGlyphs">max</text>
<text x="674.96" y="135.00" font-size="30.0" fill="#7f0f0f" textLength="25.87" lengthAdjust="spacingAndGlyphs">=</text>
<text x="715.99" y="135.00" font-size="30.0" fill="#7f0f0f" textLength="23.57" lengthAdjust="spacingAndGlyphs">2</text>
<text x="754.23" y="135.00" font-size="30.0" fill="#7f0f0f" textLength="38.83" lengthAdjust="spacingAndGlyphs">pc</text>
<path d="M532.2 161.4H586.6" stroke="#0a7a0a" stroke-width="1.8" fill="none" stroke-dasharray="14 6.5"/>
<text x="592.36" y="175.80" font-size="30.0" fill="#0a7a0a" textLength="21.02" lengthAdjust="spacingAndGlyphs">R</text>
<text x="614.28" y="185.50" font-size="18.6" fill="#0a7a0a" stroke="#0a7a0a" stroke-width="0.45" textLength="43.50" lengthAdjust="spacingAndGlyphs">max</text>
<text x="674.96" y="175.80" font-size="30.0" fill="#0a7a0a" textLength="25.87" lengthAdjust="spacingAndGlyphs">=</text>
<text x="715.68" y="175.80" font-size="30.0" fill="#0a7a0a" textLength="23.09" lengthAdjust="spacingAndGlyphs">3</text>
<text x="754.23" y="175.80" font-size="30.0" fill="#0a7a0a" textLength="38.83" lengthAdjust="spacingAndGlyphs">pc</text>
<path d="M532.2 202.0H586.6" stroke="#00007f" stroke-width="1.8" fill="none" stroke-dasharray="30 10"/>
<text x="592.36" y="216.40" font-size="30.0" fill="#00007f" textLength="21.02" lengthAdjust="spacingAndGlyphs">R</text>
<text x="614.28" y="226.10" font-size="18.6" fill="#00007f" stroke="#00007f" stroke-width="0.45" textLength="43.50" lengthAdjust="spacingAndGlyphs">max</text>
<text x="674.96" y="216.40" font-size="30.0" fill="#00007f" textLength="25.87" lengthAdjust="spacingAndGlyphs">=</text>
<text x="715.25" y="216.40" font-size="30.0" fill="#00007f" textLength="23.57" lengthAdjust="spacingAndGlyphs">5</text>
<text x="754.23" y="216.40" font-size="30.0" fill="#00007f" textLength="38.83" lengthAdjust="spacingAndGlyphs">pc</text>
<path d="M532.2 242.4H586.6" stroke="#55075f" stroke-width="1.8" fill="none" stroke-dasharray="1.8 4.9 11.9 4.9"/>
<text x="592.36" y="256.80" font-size="30.0" fill="#55075f" textLength="21.02" lengthAdjust="spacingAndGlyphs">R</text>
<text x="614.28" y="266.50" font-size="18.6" fill="#55075f" stroke="#55075f" stroke-width="0.45" textLength="43.50" lengthAdjust="spacingAndGlyphs">max</text>
<text x="674.96" y="256.80" font-size="30.0" fill="#55075f" textLength="25.87" lengthAdjust="spacingAndGlyphs">=</text>
<text x="718.01" y="256.80" font-size="30.0" fill="#55075f" textLength="40.23" lengthAdjust="spacingAndGlyphs">10</text>
<text x="776.45" y="256.80" font-size="30.0" fill="#55075f" textLength="38.19" lengthAdjust="spacingAndGlyphs">pc</text>
<path d="M532.2 282.8H586.6" stroke="#ff8c00" stroke-width="1.8" fill="none" stroke-dasharray="21 3.2 1.8 3.2"/>
<text x="592.36" y="297.20" font-size="30.0" fill="#ff8c00" textLength="21.02" lengthAdjust="spacingAndGlyphs">R</text>
<text x="614.28" y="306.90" font-size="18.6" fill="#ff8c00" stroke="#ff8c00" stroke-width="0.45" textLength="43.50" lengthAdjust="spacingAndGlyphs">max</text>
<text x="674.96" y="297.20" font-size="30.0" fill="#ff8c00" textLength="25.87" lengthAdjust="spacingAndGlyphs">=</text>
<text x="715.97" y="297.20" font-size="30.0" fill="#ff8c00" textLength="42.38" lengthAdjust="spacingAndGlyphs">50</text>
<text x="776.45" y="297.20" font-size="30.0" fill="#ff8c00" textLength="38.19" lengthAdjust="spacingAndGlyphs">pc</text>
</g>
</svg>
</body></html>
